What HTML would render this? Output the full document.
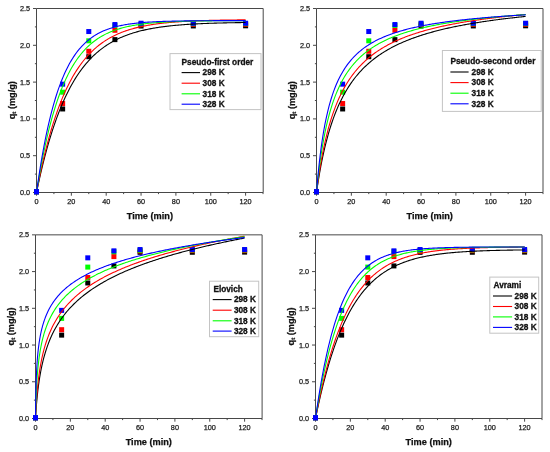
<!DOCTYPE html>
<html><head><meta charset="utf-8"><title>Kinetic models</title>
<style>html,body{margin:0;padding:0;background:#fff}svg{display:block}text{font-family:"Liberation Sans",Arial,Helvetica,sans-serif}</style></head>
<body>
<svg width="550" height="452" viewBox="0 0 550 452">
<rect width="550" height="452" fill="#fff"/>
<g>
<g stroke="#484848" stroke-width="1" fill="none">
<path d="M36.5 8.5H263.2V192.5H36.5Z"/>
<path d="M36.5 192.5v3.2M53.92 192.5v1.6M71.35 192.5v3.2M88.78 192.5v1.6M106.2 192.5v3.2M123.62 192.5v1.6M141.05 192.5v3.2M158.47 192.5v1.6M175.9 192.5v3.2M193.32 192.5v1.6M210.75 192.5v3.2M228.17 192.5v1.6M245.6 192.5v3.2M263.02 192.5v1.6M36.5 192.5h-3.5M36.5 174.1h-1.6M36.5 155.7h-3.5M36.5 137.3h-1.6M36.5 118.9h-3.5M36.5 100.5h-1.6M36.5 82.1h-3.5M36.5 63.7h-1.6M36.5 45.3h-3.5M36.5 26.9h-1.6M36.5 8.5h-3.5"/>
</g>
<g fill="#000000"><rect x="34" y="189.26" width="5" height="5"/><rect x="60.14" y="106.46" width="5" height="5"/><rect x="86.28" y="54.21" width="5" height="5"/><rect x="112.41" y="37.13" width="5" height="5"/><rect x="138.55" y="23.52" width="5" height="5"/><rect x="190.82" y="23.44" width="5" height="5"/><rect x="243.1" y="23.3" width="5" height="5"/></g>
<g fill="#ff0000"><rect x="34" y="189.26" width="5" height="5"/><rect x="60.14" y="101.02" width="5" height="5"/><rect x="86.28" y="48.76" width="5" height="5"/><rect x="112.41" y="27.79" width="5" height="5"/><rect x="138.55" y="22.19" width="5" height="5"/><rect x="190.82" y="21.82" width="5" height="5"/><rect x="243.1" y="21.82" width="5" height="5"/></g>
<g fill="#00ff00"><rect x="34" y="189.26" width="5" height="5"/><rect x="60.14" y="89.68" width="5" height="5"/><rect x="86.28" y="38.31" width="5" height="5"/><rect x="112.41" y="22.93" width="5" height="5"/><rect x="138.55" y="21.46" width="5" height="5"/><rect x="190.82" y="21.09" width="5" height="5"/><rect x="243.1" y="21.09" width="5" height="5"/></g>
<g fill="#0000ff"><rect x="34" y="189.26" width="5" height="5"/><rect x="60.14" y="81.66" width="5" height="5"/><rect x="86.28" y="29.04" width="5" height="5"/><rect x="112.41" y="22.04" width="5" height="5"/><rect x="138.55" y="20.72" width="5" height="5"/><rect x="190.82" y="20.72" width="5" height="5"/><rect x="243.1" y="20.72" width="5" height="5"/></g>
<polyline fill="none" stroke="#000000" stroke-width="1.1" stroke-linejoin="round" points="36.5,192.5 36.65,191.79 36.8,191.07 36.94,190.37 37.09,189.66 37.24,188.96 37.39,188.26 37.53,187.56 37.68,186.87 37.83,186.18 37.98,185.49 38.12,184.81 38.27,184.12 38.42,183.44 38.57,182.77 38.72,182.09 38.86,181.42 39.01,180.76 39.16,180.09 39.31,179.43 39.45,178.77 39.6,178.11 39.75,177.46 39.9,176.81 40.04,176.16 40.19,175.51 40.34,174.87 40.49,174.23 40.63,173.59 40.78,172.96 40.93,172.32 41.08,171.69 41.23,171.07 41.37,170.44 41.52,169.82 41.67,169.2 41.82,168.58 41.96,167.97 42.11,167.36 42.26,166.75 42.41,166.14 42.55,165.54 42.7,164.94 42.85,164.34 43,163.74 43.15,163.15 43.29,162.56 43.44,161.97 43.59,161.38 43.74,160.8 43.88,160.22 44.03,159.64 44.18,159.06 44.33,158.49 44.47,157.92 44.62,157.35 44.77,156.78 44.92,156.22 45.06,155.65 45.21,155.09 46.22,151.34 47.23,147.69 48.23,144.14 49.24,140.7 50.25,137.35 51.25,134.09 52.26,130.93 53.27,127.86 54.28,124.87 55.28,121.97 56.29,119.15 57.3,116.4 58.3,113.74 59.31,111.15 60.32,108.64 61.32,106.19 62.33,103.82 63.34,101.51 64.34,99.27 65.35,97.09 66.36,94.97 67.37,92.91 68.37,90.91 69.38,88.97 70.39,87.08 71.39,85.24 72.4,83.46 73.41,81.73 74.41,80.04 75.42,78.41 76.43,76.82 77.44,75.27 78.44,73.77 79.45,72.31 80.46,70.89 81.46,69.51 82.47,68.17 83.48,66.87 84.48,65.61 85.49,64.38 86.5,63.18 87.51,62.02 88.51,60.89 89.52,59.8 90.53,58.73 91.53,57.7 92.54,56.69 93.55,55.71 94.55,54.76 95.56,53.84 96.57,52.94 97.58,52.07 98.58,51.23 99.59,50.4 100.6,49.6 101.6,48.83 102.61,48.07 103.62,47.34 104.62,46.62 105.63,45.93 106.64,45.26 107.64,44.6 108.65,43.97 109.66,43.35 110.67,42.75 111.67,42.16 112.68,41.6 113.69,41.04 114.69,40.51 115.7,39.99 116.71,39.48 117.71,38.99 118.72,38.51 119.73,38.05 120.74,37.6 121.74,37.16 122.75,36.73 123.76,36.32 124.76,35.92 125.77,35.53 126.78,35.15 127.78,34.78 128.79,34.42 129.8,34.07 130.81,33.73 131.81,33.4 132.82,33.08 133.83,32.77 134.83,32.47 135.84,32.18 136.85,31.89 137.85,31.61 138.86,31.34 139.87,31.08 140.87,30.83 141.88,30.58 142.89,30.34 143.9,30.11 144.9,29.88 145.91,29.66 146.92,29.45 147.92,29.24 148.93,29.03 149.94,28.84 150.94,28.65 151.95,28.46 152.96,28.28 153.97,28.11 154.97,27.94 155.98,27.77 156.99,27.61 157.99,27.45 159,27.3 160.01,27.15 161.01,27.01 162.02,26.87 163.03,26.73 164.04,26.6 165.04,26.48 166.05,26.35 167.06,26.23 168.06,26.11 169.07,26 170.08,25.89 171.08,25.78 172.09,25.68 173.1,25.57 174.1,25.47 175.11,25.38 176.12,25.29 177.13,25.19 178.13,25.11 179.14,25.02 180.15,24.94 181.15,24.86 182.16,24.78 183.17,24.7 184.17,24.63 185.18,24.55 186.19,24.48 187.2,24.42 188.2,24.35 189.21,24.29 190.22,24.22 191.22,24.16 192.23,24.1 193.24,24.05 194.24,23.99 195.25,23.94 196.26,23.88 197.27,23.83 198.27,23.78 199.28,23.73 200.29,23.69 201.29,23.64 202.3,23.6 203.31,23.55 204.31,23.51 205.32,23.47 206.33,23.43 207.34,23.39 208.34,23.36 209.35,23.32 210.36,23.29 211.36,23.25 212.37,23.22 213.38,23.19 214.38,23.15 215.39,23.12 216.4,23.09 217.4,23.06 218.41,23.04 219.42,23.01 220.43,22.98 221.43,22.96 222.44,22.93 223.45,22.91 224.45,22.88 225.46,22.86 226.47,22.84 227.47,22.82 228.48,22.8 229.49,22.78 230.5,22.76 231.5,22.74 232.51,22.72 233.52,22.7 234.52,22.68 235.53,22.66 236.54,22.65 237.54,22.63 238.55,22.62 239.56,22.6 240.57,22.59 241.57,22.57 242.58,22.56 243.59,22.54 244.59,22.53 245.6,22.52"/>
<polyline fill="none" stroke="#ff0000" stroke-width="1.1" stroke-linejoin="round" points="36.5,192.5 36.65,191.72 36.8,190.95 36.94,190.18 37.09,189.41 37.24,188.64 37.39,187.88 37.53,187.13 37.68,186.37 37.83,185.62 37.98,184.88 38.12,184.13 38.27,183.39 38.42,182.65 38.57,181.92 38.72,181.19 38.86,180.46 39.01,179.74 39.16,179.02 39.31,178.3 39.45,177.59 39.6,176.88 39.75,176.17 39.9,175.46 40.04,174.76 40.19,174.06 40.34,173.37 40.49,172.68 40.63,171.99 40.78,171.3 40.93,170.62 41.08,169.94 41.23,169.26 41.37,168.59 41.52,167.92 41.67,167.25 41.82,166.59 41.96,165.93 42.11,165.27 42.26,164.61 42.41,163.96 42.55,163.31 42.7,162.66 42.85,162.02 43,161.38 43.15,160.74 43.29,160.11 43.44,159.47 43.59,158.84 43.74,158.22 43.88,157.59 44.03,156.97 44.18,156.35 44.33,155.74 44.47,155.13 44.62,154.52 44.77,153.91 44.92,153.3 45.06,152.7 45.21,152.1 46.22,148.09 47.23,144.2 48.23,140.42 49.24,136.76 50.25,133.21 51.25,129.77 52.26,126.44 53.27,123.2 54.28,120.06 55.28,117.02 56.29,114.07 57.3,111.2 58.3,108.43 59.31,105.74 60.32,103.13 61.32,100.6 62.33,98.14 63.34,95.76 64.34,93.46 65.35,91.22 66.36,89.05 67.37,86.94 68.37,84.9 69.38,82.92 70.39,81 71.39,79.14 72.4,77.34 73.41,75.59 74.41,73.89 75.42,72.25 76.43,70.65 77.44,69.1 78.44,67.6 79.45,66.15 80.46,64.74 81.46,63.37 82.47,62.04 83.48,60.75 84.48,59.51 85.49,58.3 86.5,57.12 87.51,55.99 88.51,54.88 89.52,53.81 90.53,52.77 91.53,51.77 92.54,50.79 93.55,49.85 94.55,48.93 95.56,48.04 96.57,47.18 97.58,46.34 98.58,45.53 99.59,44.74 100.6,43.98 101.6,43.24 102.61,42.52 103.62,41.83 104.62,41.15 105.63,40.5 106.64,39.86 107.64,39.25 108.65,38.65 109.66,38.07 110.67,37.51 111.67,36.97 112.68,36.44 113.69,35.93 114.69,35.43 115.7,34.95 116.71,34.48 117.71,34.03 118.72,33.59 119.73,33.17 120.74,32.75 121.74,32.35 122.75,31.97 123.76,31.59 124.76,31.23 125.77,30.87 126.78,30.53 127.78,30.2 128.79,29.87 129.8,29.56 130.81,29.26 131.81,28.96 132.82,28.68 133.83,28.4 134.83,28.13 135.84,27.87 136.85,27.62 137.85,27.38 138.86,27.14 139.87,26.91 140.87,26.68 141.88,26.47 142.89,26.26 143.9,26.06 144.9,25.86 145.91,25.67 146.92,25.48 147.92,25.3 148.93,25.13 149.94,24.96 150.94,24.79 151.95,24.63 152.96,24.48 153.97,24.33 154.97,24.19 155.98,24.05 156.99,23.91 157.99,23.78 159,23.65 160.01,23.52 161.01,23.4 162.02,23.29 163.03,23.17 164.04,23.06 165.04,22.96 166.05,22.85 167.06,22.75 168.06,22.66 169.07,22.56 170.08,22.47 171.08,22.38 172.09,22.29 173.1,22.21 174.1,22.13 175.11,22.05 176.12,21.98 177.13,21.9 178.13,21.83 179.14,21.76 180.15,21.69 181.15,21.63 182.16,21.57 183.17,21.5 184.17,21.44 185.18,21.39 186.19,21.33 187.2,21.28 188.2,21.22 189.21,21.17 190.22,21.12 191.22,21.08 192.23,21.03 193.24,20.98 194.24,20.94 195.25,20.9 196.26,20.86 197.27,20.82 198.27,20.78 199.28,20.74 200.29,20.7 201.29,20.67 202.3,20.64 203.31,20.6 204.31,20.57 205.32,20.54 206.33,20.51 207.34,20.48 208.34,20.45 209.35,20.42 210.36,20.4 211.36,20.37 212.37,20.35 213.38,20.32 214.38,20.3 215.39,20.27 216.4,20.25 217.4,20.23 218.41,20.21 219.42,20.19 220.43,20.17 221.43,20.15 222.44,20.13 223.45,20.11 224.45,20.1 225.46,20.08 226.47,20.06 227.47,20.05 228.48,20.03 229.49,20.02 230.5,20 231.5,19.99 232.51,19.98 233.52,19.96 234.52,19.95 235.53,19.94 236.54,19.93 237.54,19.91 238.55,19.9 239.56,19.89 240.57,19.88 241.57,19.87 242.58,19.86 243.59,19.85 244.59,19.84 245.6,19.83"/>
<polyline fill="none" stroke="#00ff00" stroke-width="1.1" stroke-linejoin="round" points="36.5,192.5 36.65,191.57 36.8,190.64 36.94,189.72 37.09,188.81 37.24,187.9 37.39,186.99 37.53,186.09 37.68,185.2 37.83,184.31 37.98,183.42 38.12,182.54 38.27,181.66 38.42,180.79 38.57,179.93 38.72,179.06 38.86,178.21 39.01,177.35 39.16,176.5 39.31,175.66 39.45,174.82 39.6,173.99 39.75,173.16 39.9,172.33 40.04,171.51 40.19,170.69 40.34,169.88 40.49,169.07 40.63,168.27 40.78,167.47 40.93,166.68 41.08,165.89 41.23,165.1 41.37,164.32 41.52,163.54 41.67,162.77 41.82,162 41.96,161.23 42.11,160.47 42.26,159.71 42.41,158.96 42.55,158.21 42.7,157.47 42.85,156.73 43,155.99 43.15,155.26 43.29,154.53 43.44,153.8 43.59,153.08 43.74,152.37 43.88,151.65 44.03,150.94 44.18,150.24 44.33,149.54 44.47,148.84 44.62,148.15 44.77,147.46 44.92,146.77 45.06,146.09 45.21,145.41 46.22,140.87 47.23,136.5 48.23,132.29 49.24,128.24 50.25,124.32 51.25,120.56 52.26,116.92 53.27,113.43 54.28,110.05 55.28,106.8 56.29,103.67 57.3,100.65 58.3,97.74 59.31,94.94 60.32,92.24 61.32,89.64 62.33,87.13 63.34,84.71 64.34,82.38 65.35,80.13 66.36,77.97 67.37,75.89 68.37,73.88 69.38,71.94 70.39,70.07 71.39,68.28 72.4,66.54 73.41,64.87 74.41,63.26 75.42,61.71 76.43,60.22 77.44,58.78 78.44,57.39 79.45,56.05 80.46,54.76 81.46,53.52 82.47,52.32 83.48,51.17 84.48,50.06 85.49,48.99 86.5,47.95 87.51,46.96 88.51,46 89.52,45.08 90.53,44.19 91.53,43.33 92.54,42.5 93.55,41.7 94.55,40.94 95.56,40.2 96.57,39.48 97.58,38.8 98.58,38.13 99.59,37.49 100.6,36.88 101.6,36.29 102.61,35.72 103.62,35.17 104.62,34.63 105.63,34.12 106.64,33.63 107.64,33.16 108.65,32.7 109.66,32.26 110.67,31.83 111.67,31.42 112.68,31.03 113.69,30.65 114.69,30.28 115.7,29.93 116.71,29.59 117.71,29.26 118.72,28.94 119.73,28.64 120.74,28.35 121.74,28.06 122.75,27.79 123.76,27.53 124.76,27.27 125.77,27.03 126.78,26.8 127.78,26.57 128.79,26.35 129.8,26.14 130.81,25.94 131.81,25.74 132.82,25.55 133.83,25.37 134.83,25.2 135.84,25.03 136.85,24.87 137.85,24.71 138.86,24.56 139.87,24.41 140.87,24.27 141.88,24.14 142.89,24.01 143.9,23.88 144.9,23.76 145.91,23.65 146.92,23.53 147.92,23.42 148.93,23.32 149.94,23.22 150.94,23.12 151.95,23.03 152.96,22.94 153.97,22.85 154.97,22.77 155.98,22.69 156.99,22.61 157.99,22.54 159,22.47 160.01,22.4 161.01,22.33 162.02,22.27 163.03,22.2 164.04,22.14 165.04,22.09 166.05,22.03 167.06,21.98 168.06,21.92 169.07,21.88 170.08,21.83 171.08,21.78 172.09,21.74 173.1,21.69 174.1,21.65 175.11,21.61 176.12,21.57 177.13,21.54 178.13,21.5 179.14,21.47 180.15,21.43 181.15,21.4 182.16,21.37 183.17,21.34 184.17,21.31 185.18,21.29 186.19,21.26 187.2,21.23 188.2,21.21 189.21,21.19 190.22,21.16 191.22,21.14 192.23,21.12 193.24,21.1 194.24,21.08 195.25,21.06 196.26,21.04 197.27,21.02 198.27,21.01 199.28,20.99 200.29,20.97 201.29,20.96 202.3,20.94 203.31,20.93 204.31,20.92 205.32,20.9 206.33,20.89 207.34,20.88 208.34,20.87 209.35,20.86 210.36,20.85 211.36,20.83 212.37,20.82 213.38,20.81 214.38,20.81 215.39,20.8 216.4,20.79 217.4,20.78 218.41,20.77 219.42,20.76 220.43,20.76 221.43,20.75 222.44,20.74 223.45,20.73 224.45,20.73 225.46,20.72 226.47,20.72 227.47,20.71 228.48,20.7 229.49,20.7 230.5,20.69 231.5,20.69 232.51,20.68 233.52,20.68 234.52,20.67 235.53,20.67 236.54,20.67 237.54,20.66 238.55,20.66 239.56,20.65 240.57,20.65 241.57,20.65 242.58,20.64 243.59,20.64 244.59,20.64 245.6,20.64"/>
<polyline fill="none" stroke="#0000ff" stroke-width="1.1" stroke-linejoin="round" points="36.5,192.5 36.65,191.44 36.8,190.38 36.94,189.33 37.09,188.29 37.24,187.26 37.39,186.23 37.53,185.2 37.68,184.19 37.83,183.18 37.98,182.17 38.12,181.17 38.27,180.18 38.42,179.2 38.57,178.22 38.72,177.24 38.86,176.28 39.01,175.31 39.16,174.36 39.31,173.41 39.45,172.46 39.6,171.53 39.75,170.59 39.9,169.67 40.04,168.75 40.19,167.83 40.34,166.92 40.49,166.02 40.63,165.12 40.78,164.23 40.93,163.34 41.08,162.46 41.23,161.58 41.37,160.71 41.52,159.85 41.67,158.99 41.82,158.13 41.96,157.28 42.11,156.44 42.26,155.6 42.41,154.76 42.55,153.94 42.7,153.11 42.85,152.29 43,151.48 43.15,150.67 43.29,149.87 43.44,149.07 43.59,148.28 43.74,147.49 43.88,146.7 44.03,145.92 44.18,145.15 44.33,144.38 44.47,143.62 44.62,142.86 44.77,142.1 44.92,141.35 45.06,140.6 45.21,139.86 46.22,134.93 47.23,130.2 48.23,125.66 49.24,121.32 50.25,117.15 51.25,113.15 52.26,109.33 53.27,105.65 54.28,102.13 55.28,98.76 56.29,95.53 57.3,92.43 58.3,89.45 59.31,86.6 60.32,83.87 61.32,81.25 62.33,78.74 63.34,76.34 64.34,74.03 65.35,71.82 66.36,69.7 67.37,67.67 68.37,65.72 69.38,63.85 70.39,62.06 71.39,60.35 72.4,58.7 73.41,57.12 74.41,55.61 75.42,54.16 76.43,52.77 77.44,51.44 78.44,50.16 79.45,48.94 80.46,47.77 81.46,46.64 82.47,45.56 83.48,44.53 84.48,43.54 85.49,42.59 86.5,41.68 87.51,40.8 88.51,39.97 89.52,39.16 90.53,38.4 91.53,37.66 92.54,36.95 93.55,36.27 94.55,35.62 95.56,35 96.57,34.4 97.58,33.83 98.58,33.28 99.59,32.76 100.6,32.25 101.6,31.77 102.61,31.31 103.62,30.86 104.62,30.44 105.63,30.03 106.64,29.64 107.64,29.26 108.65,28.9 109.66,28.56 110.67,28.23 111.67,27.91 112.68,27.61 113.69,27.32 114.69,27.04 115.7,26.77 116.71,26.51 117.71,26.27 118.72,26.03 119.73,25.81 120.74,25.59 121.74,25.38 122.75,25.18 123.76,24.99 124.76,24.81 125.77,24.63 126.78,24.47 127.78,24.3 128.79,24.15 129.8,24 130.81,23.86 131.81,23.72 132.82,23.59 133.83,23.47 134.83,23.35 135.84,23.23 136.85,23.12 137.85,23.02 138.86,22.92 139.87,22.82 140.87,22.73 141.88,22.64 142.89,22.55 143.9,22.47 144.9,22.39 145.91,22.32 146.92,22.24 147.92,22.17 148.93,22.11 149.94,22.04 150.94,21.98 151.95,21.93 152.96,21.87 153.97,21.82 154.97,21.76 155.98,21.71 156.99,21.67 157.99,21.62 159,21.58 160.01,21.54 161.01,21.5 162.02,21.46 163.03,21.42 164.04,21.39 165.04,21.35 166.05,21.32 167.06,21.29 168.06,21.26 169.07,21.23 170.08,21.2 171.08,21.18 172.09,21.15 173.1,21.13 174.1,21.11 175.11,21.08 176.12,21.06 177.13,21.04 178.13,21.02 179.14,21 180.15,20.99 181.15,20.97 182.16,20.95 183.17,20.94 184.17,20.92 185.18,20.91 186.19,20.89 187.2,20.88 188.2,20.87 189.21,20.85 190.22,20.84 191.22,20.83 192.23,20.82 193.24,20.81 194.24,20.8 195.25,20.79 196.26,20.78 197.27,20.77 198.27,20.76 199.28,20.76 200.29,20.75 201.29,20.74 202.3,20.73 203.31,20.73 204.31,20.72 205.32,20.71 206.33,20.71 207.34,20.7 208.34,20.7 209.35,20.69 210.36,20.69 211.36,20.68 212.37,20.68 213.38,20.67 214.38,20.67 215.39,20.67 216.4,20.66 217.4,20.66 218.41,20.65 219.42,20.65 220.43,20.65 221.43,20.64 222.44,20.64 223.45,20.64 224.45,20.64 225.46,20.63 226.47,20.63 227.47,20.63 228.48,20.63 229.49,20.62 230.5,20.62 231.5,20.62 232.51,20.62 233.52,20.61 234.52,20.61 235.53,20.61 236.54,20.61 237.54,20.61 238.55,20.61 239.56,20.6 240.57,20.6 241.57,20.6 242.58,20.6 243.59,20.6 244.59,20.6 245.6,20.6"/>
<rect x="34" y="189.26" width="5" height="5" fill="#0000ff"/>
<g font-size="7.3" fill="#1c1c1c" stroke="#1c1c1c" stroke-width="0.25">
<text x="36.5" y="204" text-anchor="middle">0</text>
<text x="71.35" y="204" text-anchor="middle">20</text>
<text x="106.2" y="204" text-anchor="middle">40</text>
<text x="141.05" y="204" text-anchor="middle">60</text>
<text x="175.9" y="204" text-anchor="middle">80</text>
<text x="210.75" y="204" text-anchor="middle">100</text>
<text x="245.6" y="204" text-anchor="middle">120</text>
<text x="30.2" y="195.05" text-anchor="end">0.0</text>
<text x="30.2" y="158.25" text-anchor="end">0.5</text>
<text x="30.2" y="121.45" text-anchor="end">1.0</text>
<text x="30.2" y="84.65" text-anchor="end">1.5</text>
<text x="30.2" y="47.85" text-anchor="end">2.0</text>
<text x="30.2" y="11.05" text-anchor="end">2.5</text>
</g>
<text x="149.85" y="218.6" text-anchor="middle" font-size="9.2" font-weight="bold" fill="#111" stroke="#111" stroke-width="0.25">Time (min)</text>
<text transform="translate(14.6 100.2) rotate(-90)" text-anchor="middle" font-size="9.15" font-weight="bold" fill="#111" stroke="#111" stroke-width="0.25">q<tspan font-size="6.2" dy="1.4">t</tspan><tspan dy="-1.4"> (mg/g)</tspan></text>
<rect x="170" y="53.6" width="91" height="56" fill="#fff" stroke="#c4c4c4" stroke-width="1"/>
<g font-size="8.27" font-weight="bold" fill="#111" stroke="#111" stroke-width="0.3">
<text x="181.6" y="64.8">Pseudo-first order</text>
<line x1="181.6" x2="200" y1="72.6" y2="72.6" stroke="#000000" stroke-width="1.1"/>
<text x="202.6" y="75.4">298 K</text>
<line x1="181.6" x2="200" y1="83.2" y2="83.2" stroke="#ff0000" stroke-width="1.1"/>
<text x="202.6" y="86">308 K</text>
<line x1="181.6" x2="200" y1="93.8" y2="93.8" stroke="#00ff00" stroke-width="1.1"/>
<text x="202.6" y="96.6">318 K</text>
<line x1="181.6" x2="200" y1="104.2" y2="104.2" stroke="#0000ff" stroke-width="1.1"/>
<text x="202.6" y="107">328 K</text>
</g>
</g>
<g>
<g stroke="#484848" stroke-width="1" fill="none">
<path d="M316.5 8.5H543V192.5H316.5Z"/>
<path d="M316.5 192.5v3.2M333.93 192.5v1.6M351.35 192.5v3.2M368.77 192.5v1.6M386.2 192.5v3.2M403.62 192.5v1.6M421.05 192.5v3.2M438.48 192.5v1.6M455.9 192.5v3.2M473.32 192.5v1.6M490.75 192.5v3.2M508.17 192.5v1.6M525.6 192.5v3.2M543.02 192.5v1.6M316.5 192.5h-3.5M316.5 174.1h-1.6M316.5 155.7h-3.5M316.5 137.3h-1.6M316.5 118.9h-3.5M316.5 100.5h-1.6M316.5 82.1h-3.5M316.5 63.7h-1.6M316.5 45.3h-3.5M316.5 26.9h-1.6M316.5 8.5h-3.5"/>
</g>
<g fill="#000000"><rect x="314" y="189.26" width="5" height="5"/><rect x="340.14" y="106.46" width="5" height="5"/><rect x="366.27" y="54.21" width="5" height="5"/><rect x="392.41" y="37.13" width="5" height="5"/><rect x="418.55" y="23.52" width="5" height="5"/><rect x="470.82" y="23.44" width="5" height="5"/><rect x="523.1" y="23.3" width="5" height="5"/></g>
<g fill="#ff0000"><rect x="314" y="189.26" width="5" height="5"/><rect x="340.14" y="101.02" width="5" height="5"/><rect x="366.27" y="48.76" width="5" height="5"/><rect x="392.41" y="27.79" width="5" height="5"/><rect x="418.55" y="22.19" width="5" height="5"/><rect x="470.82" y="21.82" width="5" height="5"/><rect x="523.1" y="21.82" width="5" height="5"/></g>
<g fill="#00ff00"><rect x="314" y="189.26" width="5" height="5"/><rect x="340.14" y="89.68" width="5" height="5"/><rect x="366.27" y="38.31" width="5" height="5"/><rect x="392.41" y="22.93" width="5" height="5"/><rect x="418.55" y="21.46" width="5" height="5"/><rect x="470.82" y="21.09" width="5" height="5"/><rect x="523.1" y="21.09" width="5" height="5"/></g>
<g fill="#0000ff"><rect x="314" y="189.26" width="5" height="5"/><rect x="340.14" y="81.66" width="5" height="5"/><rect x="366.27" y="29.04" width="5" height="5"/><rect x="392.41" y="22.04" width="5" height="5"/><rect x="418.55" y="20.72" width="5" height="5"/><rect x="470.82" y="20.72" width="5" height="5"/><rect x="523.1" y="20.72" width="5" height="5"/></g>
<polyline fill="none" stroke="#000000" stroke-width="1.1" stroke-linejoin="round" points="316.5,192.5 316.65,191.48 316.8,190.46 316.94,189.46 317.09,188.46 317.24,187.48 317.39,186.5 317.53,185.54 317.68,184.58 317.83,183.64 317.98,182.7 318.12,181.78 318.27,180.86 318.42,179.95 318.57,179.05 318.72,178.15 318.86,177.27 319.01,176.4 319.16,175.53 319.31,174.67 319.45,173.82 319.6,172.98 319.75,172.14 319.9,171.31 320.04,170.49 320.19,169.68 320.34,168.88 320.49,168.08 320.63,167.29 320.78,166.5 320.93,165.73 321.08,164.96 321.23,164.19 321.37,163.44 321.52,162.69 321.67,161.95 321.82,161.21 321.96,160.48 322.11,159.76 322.26,159.04 322.41,158.33 322.55,157.62 322.7,156.92 322.85,156.23 323,155.54 323.15,154.86 323.29,154.18 323.44,153.51 323.59,152.85 323.74,152.19 323.88,151.53 324.03,150.88 324.18,150.24 324.33,149.6 324.47,148.97 324.62,148.34 324.77,147.71 324.92,147.1 325.06,146.48 325.21,145.87 326.22,141.85 327.23,138.03 328.23,134.4 329.24,130.94 330.25,127.65 331.25,124.52 332.26,121.52 333.27,118.66 334.28,115.92 335.28,113.3 336.29,110.79 337.3,108.37 338.3,106.06 339.31,103.84 340.32,101.7 341.32,99.64 342.33,97.65 343.34,95.74 344.34,93.9 345.35,92.12 346.36,90.41 347.37,88.75 348.37,87.14 349.38,85.59 350.39,84.09 351.39,82.64 352.4,81.23 353.41,79.86 354.41,78.54 355.42,77.25 356.43,76.01 357.44,74.8 358.44,73.62 359.45,72.48 360.46,71.36 361.46,70.28 362.47,69.23 363.48,68.21 364.48,67.21 365.49,66.24 366.5,65.29 367.51,64.37 368.51,63.47 369.52,62.59 370.53,61.74 371.53,60.9 372.54,60.09 373.55,59.29 374.55,58.51 375.56,57.75 376.57,57.01 377.58,56.28 378.58,55.57 379.59,54.88 380.6,54.2 381.6,53.53 382.61,52.88 383.62,52.25 384.62,51.62 385.63,51.01 386.64,50.41 387.64,49.83 388.65,49.25 389.66,48.69 390.67,48.14 391.67,47.59 392.68,47.06 393.69,46.54 394.69,46.03 395.7,45.53 396.71,45.04 397.71,44.55 398.72,44.08 399.73,43.61 400.74,43.15 401.74,42.7 402.75,42.26 403.76,41.83 404.76,41.4 405.77,40.98 406.78,40.57 407.78,40.16 408.79,39.77 409.8,39.37 410.81,38.99 411.81,38.61 412.82,38.24 413.83,37.87 414.83,37.51 415.84,37.15 416.85,36.8 417.85,36.46 418.86,36.12 419.87,35.78 420.87,35.45 421.88,35.13 422.89,34.81 423.9,34.49 424.9,34.18 425.91,33.88 426.92,33.58 427.92,33.28 428.93,32.99 429.94,32.7 430.94,32.41 431.95,32.13 432.96,31.86 433.97,31.58 434.97,31.32 435.98,31.05 436.99,30.79 437.99,30.53 439,30.27 440.01,30.02 441.01,29.78 442.02,29.53 443.03,29.29 444.04,29.05 445.04,28.81 446.05,28.58 447.06,28.35 448.06,28.13 449.07,27.9 450.08,27.68 451.08,27.46 452.09,27.25 453.1,27.03 454.1,26.82 455.11,26.61 456.12,26.41 457.13,26.21 458.13,26.01 459.14,25.81 460.15,25.61 461.15,25.42 462.16,25.23 463.17,25.04 464.17,24.85 465.18,24.66 466.19,24.48 467.2,24.3 468.2,24.12 469.21,23.95 470.22,23.77 471.22,23.6 472.23,23.43 473.24,23.26 474.24,23.09 475.25,22.92 476.26,22.76 477.27,22.6 478.27,22.44 479.28,22.28 480.29,22.12 481.29,21.97 482.3,21.81 483.31,21.66 484.31,21.51 485.32,21.36 486.33,21.21 487.34,21.07 488.34,20.92 489.35,20.78 490.36,20.64 491.36,20.5 492.37,20.36 493.38,20.22 494.38,20.08 495.39,19.95 496.4,19.82 497.4,19.68 498.41,19.55 499.42,19.42 500.43,19.29 501.43,19.17 502.44,19.04 503.45,18.92 504.45,18.79 505.46,18.67 506.47,18.55 507.47,18.43 508.48,18.31 509.49,18.19 510.5,18.07 511.5,17.96 512.51,17.84 513.52,17.73 514.52,17.61 515.53,17.5 516.54,17.39 517.54,17.28 518.55,17.17 519.56,17.06 520.57,16.96 521.57,16.85 522.58,16.74 523.59,16.64 524.59,16.54 525.6,16.43"/>
<polyline fill="none" stroke="#ff0000" stroke-width="1.1" stroke-linejoin="round" points="316.5,192.5 316.65,191.33 316.8,190.18 316.94,189.04 317.09,187.91 317.24,186.8 317.39,185.7 317.53,184.61 317.68,183.53 317.83,182.47 317.98,181.42 318.12,180.38 318.27,179.35 318.42,178.33 318.57,177.32 318.72,176.33 318.86,175.34 319.01,174.37 319.16,173.4 319.31,172.45 319.45,171.5 319.6,170.57 319.75,169.64 319.9,168.73 320.04,167.82 320.19,166.93 320.34,166.04 320.49,165.16 320.63,164.29 320.78,163.43 320.93,162.58 321.08,161.74 321.23,160.9 321.37,160.07 321.52,159.26 321.67,158.44 321.82,157.64 321.96,156.85 322.11,156.06 322.26,155.28 322.41,154.51 322.55,153.74 322.7,152.98 322.85,152.23 323,151.49 323.15,150.75 323.29,150.02 323.44,149.3 323.59,148.58 323.74,147.87 323.88,147.17 324.03,146.47 324.18,145.78 324.33,145.09 324.47,144.42 324.62,143.74 324.77,143.08 324.92,142.41 325.06,141.76 325.21,141.11 326.22,136.83 327.23,132.79 328.23,128.97 329.24,125.35 330.25,121.92 331.25,118.67 332.26,115.57 333.27,112.63 334.28,109.82 335.28,107.14 336.29,104.58 337.3,102.14 338.3,99.8 339.31,97.55 340.32,95.4 341.32,93.34 342.33,91.36 343.34,89.45 344.34,87.62 345.35,85.86 346.36,84.16 347.37,82.52 348.37,80.94 349.38,79.41 350.39,77.94 351.39,76.51 352.4,75.14 353.41,73.81 354.41,72.52 355.42,71.27 356.43,70.06 357.44,68.88 358.44,67.74 359.45,66.64 360.46,65.57 361.46,64.53 362.47,63.51 363.48,62.53 364.48,61.57 365.49,60.64 366.5,59.74 367.51,58.86 368.51,58 369.52,57.16 370.53,56.35 371.53,55.55 372.54,54.78 373.55,54.02 374.55,53.28 375.56,52.56 376.57,51.86 377.58,51.17 378.58,50.5 379.59,49.85 380.6,49.21 381.6,48.58 382.61,47.97 383.62,47.37 384.62,46.78 385.63,46.21 386.64,45.65 387.64,45.1 388.65,44.56 389.66,44.03 390.67,43.51 391.67,43.01 392.68,42.51 393.69,42.03 394.69,41.55 395.7,41.08 396.71,40.62 397.71,40.17 398.72,39.73 399.73,39.3 400.74,38.87 401.74,38.45 402.75,38.04 403.76,37.64 404.76,37.25 405.77,36.86 406.78,36.48 407.78,36.1 408.79,35.73 409.8,35.37 410.81,35.01 411.81,34.66 412.82,34.32 413.83,33.98 414.83,33.65 415.84,33.32 416.85,32.99 417.85,32.68 418.86,32.36 419.87,32.06 420.87,31.75 421.88,31.46 422.89,31.16 423.9,30.87 424.9,30.59 425.91,30.31 426.92,30.03 427.92,29.76 428.93,29.49 429.94,29.23 430.94,28.96 431.95,28.71 432.96,28.45 433.97,28.21 434.97,27.96 435.98,27.72 436.99,27.48 437.99,27.24 439,27.01 440.01,26.78 441.01,26.55 442.02,26.33 443.03,26.11 444.04,25.89 445.04,25.67 446.05,25.46 447.06,25.25 448.06,25.05 449.07,24.84 450.08,24.64 451.08,24.44 452.09,24.25 453.1,24.05 454.1,23.86 455.11,23.67 456.12,23.48 457.13,23.3 458.13,23.12 459.14,22.94 460.15,22.76 461.15,22.58 462.16,22.41 463.17,22.24 464.17,22.07 465.18,21.9 466.19,21.73 467.2,21.57 468.2,21.41 469.21,21.25 470.22,21.09 471.22,20.93 472.23,20.78 473.24,20.63 474.24,20.47 475.25,20.32 476.26,20.18 477.27,20.03 478.27,19.88 479.28,19.74 480.29,19.6 481.29,19.46 482.3,19.32 483.31,19.18 484.31,19.05 485.32,18.91 486.33,18.78 487.34,18.65 488.34,18.51 489.35,18.39 490.36,18.26 491.36,18.13 492.37,18.01 493.38,17.88 494.38,17.76 495.39,17.64 496.4,17.52 497.4,17.4 498.41,17.28 499.42,17.16 500.43,17.05 501.43,16.93 502.44,16.82 503.45,16.71 504.45,16.59 505.46,16.48 506.47,16.37 507.47,16.27 508.48,16.16 509.49,16.05 510.5,15.95 511.5,15.84 512.51,15.74 513.52,15.64 514.52,15.53 515.53,15.43 516.54,15.33 517.54,15.23 518.55,15.14 519.56,15.04 520.57,14.94 521.57,14.85 522.58,14.75 523.59,14.66 524.59,14.57 525.6,14.47"/>
<polyline fill="none" stroke="#00ff00" stroke-width="1.1" stroke-linejoin="round" points="316.5,192.5 316.65,191 316.8,189.52 316.94,188.07 317.09,186.64 317.24,185.23 317.39,183.84 317.53,182.47 317.68,181.12 317.83,179.79 317.98,178.48 318.12,177.19 318.27,175.92 318.42,174.66 318.57,173.42 318.72,172.2 318.86,171 319.01,169.81 319.16,168.64 319.31,167.49 319.45,166.35 319.6,165.23 319.75,164.12 319.9,163.02 320.04,161.94 320.19,160.88 320.34,159.83 320.49,158.79 320.63,157.76 320.78,156.75 320.93,155.75 321.08,154.76 321.23,153.79 321.37,152.83 321.52,151.88 321.67,150.94 321.82,150.01 321.96,149.09 322.11,148.19 322.26,147.29 322.41,146.41 322.55,145.54 322.7,144.67 322.85,143.82 323,142.98 323.15,142.14 323.29,141.32 323.44,140.5 323.59,139.7 323.74,138.9 323.88,138.12 324.03,137.34 324.18,136.57 324.33,135.81 324.47,135.05 324.62,134.31 324.77,133.57 324.92,132.84 325.06,132.12 325.21,131.41 326.22,126.74 327.23,122.39 328.23,118.32 329.24,114.51 330.25,110.94 331.25,107.58 332.26,104.41 333.27,101.43 334.28,98.6 335.28,95.93 336.29,93.4 337.3,90.99 338.3,88.71 339.31,86.53 340.32,84.46 341.32,82.48 342.33,80.59 343.34,78.78 344.34,77.05 345.35,75.4 346.36,73.81 347.37,72.29 348.37,70.82 349.38,69.42 350.39,68.06 351.39,66.76 352.4,65.51 353.41,64.3 354.41,63.13 355.42,62.01 356.43,60.92 357.44,59.87 358.44,58.85 359.45,57.87 360.46,56.92 361.46,56 362.47,55.1 363.48,54.24 364.48,53.4 365.49,52.58 366.5,51.79 367.51,51.02 368.51,50.28 369.52,49.55 370.53,48.85 371.53,48.16 372.54,47.49 373.55,46.84 374.55,46.21 375.56,45.59 376.57,44.99 377.58,44.41 378.58,43.83 379.59,43.28 380.6,42.73 381.6,42.2 382.61,41.68 383.62,41.18 384.62,40.68 385.63,40.2 386.64,39.73 387.64,39.27 388.65,38.82 389.66,38.37 390.67,37.94 391.67,37.52 392.68,37.11 393.69,36.7 394.69,36.3 395.7,35.91 396.71,35.53 397.71,35.16 398.72,34.8 399.73,34.44 400.74,34.09 401.74,33.74 402.75,33.4 403.76,33.07 404.76,32.75 405.77,32.43 406.78,32.11 407.78,31.8 408.79,31.5 409.8,31.21 410.81,30.91 411.81,30.63 412.82,30.35 413.83,30.07 414.83,29.8 415.84,29.53 416.85,29.27 417.85,29.01 418.86,28.76 419.87,28.51 420.87,28.26 421.88,28.02 422.89,27.78 423.9,27.55 424.9,27.32 425.91,27.09 426.92,26.87 427.92,26.65 428.93,26.43 429.94,26.22 430.94,26.01 431.95,25.8 432.96,25.6 433.97,25.4 434.97,25.2 435.98,25.01 436.99,24.81 437.99,24.62 439,24.44 440.01,24.25 441.01,24.07 442.02,23.89 443.03,23.72 444.04,23.54 445.04,23.37 446.05,23.2 447.06,23.04 448.06,22.87 449.07,22.71 450.08,22.55 451.08,22.39 452.09,22.23 453.1,22.08 454.1,21.93 455.11,21.78 456.12,21.63 457.13,21.48 458.13,21.34 459.14,21.19 460.15,21.05 461.15,20.91 462.16,20.78 463.17,20.64 464.17,20.51 465.18,20.37 466.19,20.24 467.2,20.11 468.2,19.99 469.21,19.86 470.22,19.73 471.22,19.61 472.23,19.49 473.24,19.37 474.24,19.25 475.25,19.13 476.26,19.01 477.27,18.9 478.27,18.78 479.28,18.67 480.29,18.56 481.29,18.45 482.3,18.34 483.31,18.23 484.31,18.12 485.32,18.02 486.33,17.91 487.34,17.81 488.34,17.71 489.35,17.61 490.36,17.51 491.36,17.41 492.37,17.31 493.38,17.21 494.38,17.12 495.39,17.02 496.4,16.93 497.4,16.83 498.41,16.74 499.42,16.65 500.43,16.56 501.43,16.47 502.44,16.38 503.45,16.29 504.45,16.21 505.46,16.12 506.47,16.04 507.47,15.95 508.48,15.87 509.49,15.78 510.5,15.7 511.5,15.62 512.51,15.54 513.52,15.46 514.52,15.38 515.53,15.3 516.54,15.22 517.54,15.15 518.55,15.07 519.56,15 520.57,14.92 521.57,14.85 522.58,14.77 523.59,14.7 524.59,14.63 525.6,14.56"/>
<polyline fill="none" stroke="#0000ff" stroke-width="1.1" stroke-linejoin="round" points="316.5,192.5 316.65,190.66 316.8,188.86 316.94,187.09 317.09,185.35 317.24,183.64 317.39,181.97 317.53,180.33 317.68,178.72 317.83,177.13 317.98,175.58 318.12,174.05 318.27,172.54 318.42,171.07 318.57,169.62 318.72,168.19 318.86,166.79 319.01,165.41 319.16,164.06 319.31,162.72 319.45,161.41 319.6,160.12 319.75,158.85 319.9,157.6 320.04,156.37 320.19,155.16 320.34,153.97 320.49,152.8 320.63,151.64 320.78,150.51 320.93,149.39 321.08,148.28 321.23,147.19 321.37,146.12 321.52,145.07 321.67,144.03 321.82,143 321.96,141.99 322.11,141 322.26,140.01 322.41,139.05 322.55,138.09 322.7,137.15 322.85,136.22 323,135.31 323.15,134.4 323.29,133.51 323.44,132.63 323.59,131.76 323.74,130.91 323.88,130.06 324.03,129.23 324.18,128.4 324.33,127.59 324.47,126.79 324.62,126 324.77,125.21 324.92,124.44 325.06,123.68 325.21,122.93 326.22,118.03 327.23,113.51 328.23,109.33 329.24,105.46 330.25,101.85 331.25,98.49 332.26,95.34 333.27,92.4 334.28,89.63 335.28,87.03 336.29,84.58 337.3,82.26 338.3,80.07 339.31,78 340.32,76.04 341.32,74.17 342.33,72.4 343.34,70.71 344.34,69.1 345.35,67.56 346.36,66.09 347.37,64.69 348.37,63.35 349.38,62.06 350.39,60.82 351.39,59.64 352.4,58.5 353.41,57.41 354.41,56.36 355.42,55.34 356.43,54.37 357.44,53.43 358.44,52.52 359.45,51.64 360.46,50.8 361.46,49.98 362.47,49.19 363.48,48.42 364.48,47.68 365.49,46.96 366.5,46.27 367.51,45.59 368.51,44.94 369.52,44.3 370.53,43.69 371.53,43.09 372.54,42.51 373.55,41.94 374.55,41.39 375.56,40.86 376.57,40.34 377.58,39.83 378.58,39.34 379.59,38.85 380.6,38.39 381.6,37.93 382.61,37.48 383.62,37.05 384.62,36.62 385.63,36.21 386.64,35.81 387.64,35.41 388.65,35.03 389.66,34.65 390.67,34.28 391.67,33.92 392.68,33.57 393.69,33.22 394.69,32.89 395.7,32.56 396.71,32.23 397.71,31.92 398.72,31.61 399.73,31.3 400.74,31.01 401.74,30.71 402.75,30.43 403.76,30.15 404.76,29.87 405.77,29.61 406.78,29.34 407.78,29.08 408.79,28.83 409.8,28.58 410.81,28.33 411.81,28.09 412.82,27.86 413.83,27.63 414.83,27.4 415.84,27.17 416.85,26.95 417.85,26.74 418.86,26.53 419.87,26.32 420.87,26.11 421.88,25.91 422.89,25.71 423.9,25.52 424.9,25.32 425.91,25.14 426.92,24.95 427.92,24.77 428.93,24.59 429.94,24.41 430.94,24.24 431.95,24.06 432.96,23.89 433.97,23.73 434.97,23.56 435.98,23.4 436.99,23.24 437.99,23.09 439,22.93 440.01,22.78 441.01,22.63 442.02,22.48 443.03,22.34 444.04,22.19 445.04,22.05 446.05,21.91 447.06,21.77 448.06,21.64 449.07,21.5 450.08,21.37 451.08,21.24 452.09,21.11 453.1,20.98 454.1,20.86 455.11,20.74 456.12,20.61 457.13,20.49 458.13,20.37 459.14,20.26 460.15,20.14 461.15,20.03 462.16,19.91 463.17,19.8 464.17,19.69 465.18,19.58 466.19,19.47 467.2,19.37 468.2,19.26 469.21,19.16 470.22,19.06 471.22,18.95 472.23,18.85 473.24,18.76 474.24,18.66 475.25,18.56 476.26,18.47 477.27,18.37 478.27,18.28 479.28,18.19 480.29,18.09 481.29,18 482.3,17.91 483.31,17.83 484.31,17.74 485.32,17.65 486.33,17.57 487.34,17.48 488.34,17.4 489.35,17.32 490.36,17.23 491.36,17.15 492.37,17.07 493.38,16.99 494.38,16.92 495.39,16.84 496.4,16.76 497.4,16.69 498.41,16.61 499.42,16.54 500.43,16.46 501.43,16.39 502.44,16.32 503.45,16.25 504.45,16.17 505.46,16.1 506.47,16.04 507.47,15.97 508.48,15.9 509.49,15.83 510.5,15.76 511.5,15.7 512.51,15.63 513.52,15.57 514.52,15.5 515.53,15.44 516.54,15.38 517.54,15.31 518.55,15.25 519.56,15.19 520.57,15.13 521.57,15.07 522.58,15.01 523.59,14.95 524.59,14.89 525.6,14.83"/>
<rect x="314" y="189.26" width="5" height="5" fill="#0000ff"/>
<g font-size="7.3" fill="#1c1c1c" stroke="#1c1c1c" stroke-width="0.25">
<text x="316.5" y="204" text-anchor="middle">0</text>
<text x="351.35" y="204" text-anchor="middle">20</text>
<text x="386.2" y="204" text-anchor="middle">40</text>
<text x="421.05" y="204" text-anchor="middle">60</text>
<text x="455.9" y="204" text-anchor="middle">80</text>
<text x="490.75" y="204" text-anchor="middle">100</text>
<text x="525.6" y="204" text-anchor="middle">120</text>
<text x="310.2" y="195.05" text-anchor="end">0.0</text>
<text x="310.2" y="158.25" text-anchor="end">0.5</text>
<text x="310.2" y="121.45" text-anchor="end">1.0</text>
<text x="310.2" y="84.65" text-anchor="end">1.5</text>
<text x="310.2" y="47.85" text-anchor="end">2.0</text>
<text x="310.2" y="11.05" text-anchor="end">2.5</text>
</g>
<text x="429.75" y="218.6" text-anchor="middle" font-size="9.2" font-weight="bold" fill="#111" stroke="#111" stroke-width="0.25">Time (min)</text>
<text transform="translate(294.6 100.2) rotate(-90)" text-anchor="middle" font-size="9.15" font-weight="bold" fill="#111" stroke="#111" stroke-width="0.25">q<tspan font-size="6.2" dy="1.4">t</tspan><tspan dy="-1.4"> (mg/g)</tspan></text>
<rect x="442.4" y="50.5" width="98.8" height="60.9" fill="#fff" stroke="#c4c4c4" stroke-width="1"/>
<g font-size="8.27" font-weight="bold" fill="#111" stroke="#111" stroke-width="0.3">
<text x="450.4" y="64">Pseudo-second order</text>
<line x1="450.4" x2="468.6" y1="72" y2="72" stroke="#000000" stroke-width="1.1"/>
<text x="471.6" y="74.8">298 K</text>
<line x1="450.4" x2="468.6" y1="82.6" y2="82.6" stroke="#ff0000" stroke-width="1.1"/>
<text x="471.6" y="85.4">308 K</text>
<line x1="450.4" x2="468.6" y1="93.2" y2="93.2" stroke="#00ff00" stroke-width="1.1"/>
<text x="471.6" y="96">318 K</text>
<line x1="450.4" x2="468.6" y1="103.8" y2="103.8" stroke="#0000ff" stroke-width="1.1"/>
<text x="471.6" y="106.6">328 K</text>
</g>
</g>
<g>
<g stroke="#484848" stroke-width="1" fill="none">
<path d="M35.5 234.85H262.1V418.5H35.5Z"/>
<path d="M35.5 418.5v3.2M52.92 418.5v1.6M70.35 418.5v3.2M87.78 418.5v1.6M105.2 418.5v3.2M122.62 418.5v1.6M140.05 418.5v3.2M157.47 418.5v1.6M174.9 418.5v3.2M192.32 418.5v1.6M209.75 418.5v3.2M227.17 418.5v1.6M244.6 418.5v3.2M262.02 418.5v1.6M35.5 418.5h-3.5M35.5 400.13h-1.6M35.5 381.77h-3.5M35.5 363.4h-1.6M35.5 345.04h-3.5M35.5 326.67h-1.6M35.5 308.31h-3.5M35.5 289.94h-1.6M35.5 271.58h-3.5M35.5 253.21h-1.6M35.5 234.85h-3.5"/>
</g>
<g fill="#000000"><rect x="33" y="415.27" width="5" height="5"/><rect x="59.14" y="332.62" width="5" height="5"/><rect x="85.28" y="280.47" width="5" height="5"/><rect x="111.41" y="263.42" width="5" height="5"/><rect x="137.55" y="249.83" width="5" height="5"/><rect x="189.82" y="249.76" width="5" height="5"/><rect x="242.1" y="249.61" width="5" height="5"/></g>
<g fill="#ff0000"><rect x="33" y="415.27" width="5" height="5"/><rect x="59.14" y="327.19" width="5" height="5"/><rect x="85.28" y="275.03" width="5" height="5"/><rect x="111.41" y="254.09" width="5" height="5"/><rect x="137.55" y="248.51" width="5" height="5"/><rect x="189.82" y="248.14" width="5" height="5"/><rect x="242.1" y="248.14" width="5" height="5"/></g>
<g fill="#00ff00"><rect x="33" y="415.27" width="5" height="5"/><rect x="59.14" y="315.87" width="5" height="5"/><rect x="85.28" y="264.6" width="5" height="5"/><rect x="111.41" y="249.25" width="5" height="5"/><rect x="137.55" y="247.78" width="5" height="5"/><rect x="189.82" y="247.41" width="5" height="5"/><rect x="242.1" y="247.41" width="5" height="5"/></g>
<g fill="#0000ff"><rect x="33" y="415.27" width="5" height="5"/><rect x="59.14" y="307.87" width="5" height="5"/><rect x="85.28" y="255.34" width="5" height="5"/><rect x="111.41" y="248.36" width="5" height="5"/><rect x="137.55" y="247.04" width="5" height="5"/><rect x="189.82" y="247.04" width="5" height="5"/><rect x="242.1" y="247.04" width="5" height="5"/></g>
<polyline fill="none" stroke="#000000" stroke-width="1.1" stroke-linejoin="round" points="35.5,418.5 35.65,416.05 35.8,413.73 35.94,411.55 36.09,409.47 36.24,407.5 36.39,405.62 36.53,403.83 36.68,402.11 36.83,400.46 36.98,398.88 37.12,397.36 37.27,395.89 37.42,394.48 37.57,393.11 37.72,391.79 37.86,390.51 38.01,389.28 38.16,388.07 38.31,386.91 38.45,385.77 38.6,384.67 38.75,383.6 38.9,382.55 39.04,381.53 39.19,380.54 39.34,379.57 39.49,378.62 39.63,377.7 39.78,376.8 39.93,375.91 40.08,375.05 40.23,374.2 40.37,373.37 40.52,372.56 40.67,371.76 40.82,370.98 40.96,370.22 41.11,369.47 41.26,368.73 41.41,368.01 41.55,367.3 41.7,366.6 41.85,365.91 42,365.23 42.15,364.57 42.29,363.92 42.44,363.28 42.59,362.64 42.74,362.02 42.88,361.41 43.03,360.8 43.18,360.21 43.33,359.62 43.47,359.04 43.62,358.47 43.77,357.91 43.92,357.36 44.06,356.81 44.21,356.27 45.22,352.78 46.23,349.57 47.23,346.59 48.24,343.83 49.25,341.24 50.25,338.8 51.26,336.51 52.27,334.34 53.28,332.29 54.28,330.33 55.29,328.46 56.3,326.68 57.3,324.97 58.31,323.34 59.32,321.76 60.32,320.25 61.33,318.79 62.34,317.39 63.34,316.03 64.35,314.71 65.36,313.44 66.37,312.21 67.37,311.01 68.38,309.85 69.39,308.72 70.39,307.62 71.4,306.55 72.41,305.51 73.41,304.5 74.42,303.51 75.43,302.54 76.44,301.6 77.44,300.68 78.45,299.78 79.46,298.9 80.46,298.03 81.47,297.19 82.48,296.36 83.48,295.55 84.49,294.76 85.5,293.98 86.51,293.22 87.51,292.47 88.52,291.74 89.53,291.01 90.53,290.3 91.54,289.61 92.55,288.92 93.55,288.25 94.56,287.59 95.57,286.94 96.58,286.29 97.58,285.66 98.59,285.04 99.6,284.43 100.6,283.83 101.61,283.23 102.62,282.65 103.62,282.07 104.63,281.5 105.64,280.94 106.64,280.39 107.65,279.85 108.66,279.31 109.67,278.78 110.67,278.25 111.68,277.74 112.69,277.23 113.69,276.72 114.7,276.23 115.71,275.73 116.71,275.25 117.72,274.77 118.73,274.29 119.74,273.83 120.74,273.36 121.75,272.9 122.76,272.45 123.76,272 124.77,271.56 125.78,271.12 126.78,270.69 127.79,270.26 128.8,269.84 129.81,269.42 130.81,269 131.82,268.59 132.83,268.19 133.83,267.78 134.84,267.38 135.85,266.99 136.85,266.6 137.86,266.21 138.87,265.83 139.87,265.45 140.88,265.07 141.89,264.7 142.9,264.33 143.9,263.96 144.91,263.6 145.92,263.24 146.92,262.89 147.93,262.53 148.94,262.18 149.94,261.84 150.95,261.49 151.96,261.15 152.97,260.81 153.97,260.48 154.98,260.15 155.99,259.82 156.99,259.49 158,259.17 159.01,258.84 160.01,258.52 161.02,258.21 162.03,257.89 163.04,257.58 164.04,257.27 165.05,256.97 166.06,256.66 167.06,256.36 168.07,256.06 169.08,255.76 170.08,255.47 171.09,255.17 172.1,254.88 173.1,254.59 174.11,254.3 175.12,254.02 176.13,253.74 177.13,253.45 178.14,253.18 179.15,252.9 180.15,252.62 181.16,252.35 182.17,252.08 183.17,251.81 184.18,251.54 185.19,251.27 186.2,251.01 187.2,250.75 188.21,250.49 189.22,250.23 190.22,249.97 191.23,249.71 192.24,249.46 193.24,249.21 194.25,248.96 195.26,248.71 196.27,248.46 197.27,248.21 198.28,247.97 199.29,247.72 200.29,247.48 201.3,247.24 202.31,247 203.31,246.76 204.32,246.53 205.33,246.29 206.34,246.06 207.34,245.83 208.35,245.6 209.36,245.37 210.36,245.14 211.37,244.91 212.38,244.68 213.38,244.46 214.39,244.24 215.4,244.02 216.4,243.79 217.41,243.58 218.42,243.36 219.43,243.14 220.43,242.92 221.44,242.71 222.45,242.5 223.45,242.28 224.46,242.07 225.47,241.86 226.47,241.65 227.48,241.44 228.49,241.24 229.5,241.03 230.5,240.83 231.51,240.62 232.52,240.42 233.52,240.22 234.53,240.02 235.54,239.82 236.54,239.62 237.55,239.42 238.56,239.22 239.57,239.03 240.57,238.83 241.58,238.64 242.59,238.45 243.59,238.25 244.6,238.06"/>
<polyline fill="none" stroke="#ff0000" stroke-width="1.1" stroke-linejoin="round" points="35.5,418.5 35.65,415.17 35.8,412.11 35.94,409.29 36.09,406.66 36.24,404.21 36.39,401.9 36.53,399.74 36.68,397.69 36.83,395.75 36.98,393.9 37.12,392.14 37.27,390.46 37.42,388.86 37.57,387.32 37.72,385.84 37.86,384.41 38.01,383.04 38.16,381.72 38.31,380.44 38.45,379.21 38.6,378.02 38.75,376.86 38.9,375.74 39.04,374.65 39.19,373.59 39.34,372.56 39.49,371.56 39.63,370.58 39.78,369.63 39.93,368.7 40.08,367.8 40.23,366.92 40.37,366.05 40.52,365.21 40.67,364.38 40.82,363.58 40.96,362.79 41.11,362.02 41.26,361.26 41.41,360.52 41.55,359.79 41.7,359.07 41.85,358.37 42,357.69 42.15,357.01 42.29,356.35 42.44,355.7 42.59,355.06 42.74,354.43 42.88,353.81 43.03,353.2 43.18,352.6 43.33,352.01 43.47,351.43 43.62,350.86 43.77,350.3 43.92,349.74 44.06,349.19 44.21,348.66 45.22,345.18 46.23,342 47.23,339.07 48.24,336.35 49.25,333.82 50.25,331.45 51.26,329.22 52.27,327.11 53.28,325.12 54.28,323.23 55.29,321.44 56.3,319.72 57.3,318.08 58.31,316.51 59.32,315 60.32,313.55 61.33,312.16 62.34,310.81 63.34,309.52 64.35,308.26 65.36,307.05 66.37,305.88 67.37,304.74 68.38,303.63 69.39,302.56 70.39,301.52 71.4,300.5 72.41,299.51 73.41,298.55 74.42,297.61 75.43,296.7 76.44,295.8 77.44,294.93 78.45,294.08 79.46,293.25 80.46,292.43 81.47,291.63 82.48,290.85 83.48,290.09 84.49,289.34 85.5,288.6 86.51,287.88 87.51,287.18 88.52,286.48 89.53,285.8 90.53,285.13 91.54,284.48 92.55,283.83 93.55,283.2 94.56,282.57 95.57,281.96 96.58,281.36 97.58,280.76 98.59,280.18 99.6,279.6 100.6,279.04 101.61,278.48 102.62,277.93 103.62,277.38 104.63,276.85 105.64,276.32 106.64,275.8 107.65,275.29 108.66,274.79 109.67,274.29 110.67,273.8 111.68,273.31 112.69,272.83 113.69,272.36 114.7,271.89 115.71,271.43 116.71,270.97 117.72,270.52 118.73,270.08 119.74,269.64 120.74,269.2 121.75,268.77 122.76,268.35 123.76,267.93 124.77,267.51 125.78,267.1 126.78,266.7 127.79,266.29 128.8,265.9 129.81,265.5 130.81,265.11 131.82,264.73 132.83,264.35 133.83,263.97 134.84,263.6 135.85,263.23 136.85,262.86 137.86,262.5 138.87,262.14 139.87,261.78 140.88,261.43 141.89,261.08 142.9,260.73 143.9,260.39 144.91,260.05 145.92,259.72 146.92,259.38 147.93,259.05 148.94,258.72 149.94,258.4 150.95,258.08 151.96,257.76 152.97,257.44 153.97,257.13 154.98,256.82 155.99,256.51 156.99,256.2 158,255.9 159.01,255.6 160.01,255.3 161.02,255 162.03,254.71 163.04,254.42 164.04,254.13 165.05,253.84 166.06,253.55 167.06,253.27 168.07,252.99 169.08,252.71 170.08,252.44 171.09,252.16 172.1,251.89 173.1,251.62 174.11,251.35 175.12,251.08 176.13,250.82 177.13,250.56 178.14,250.29 179.15,250.04 180.15,249.78 181.16,249.52 182.17,249.27 183.17,249.02 184.18,248.77 185.19,248.52 186.2,248.27 187.2,248.02 188.21,247.78 189.22,247.54 190.22,247.3 191.23,247.06 192.24,246.82 193.24,246.58 194.25,246.35 195.26,246.12 196.27,245.88 197.27,245.65 198.28,245.42 199.29,245.2 200.29,244.97 201.3,244.75 202.31,244.52 203.31,244.3 204.32,244.08 205.33,243.86 206.34,243.64 207.34,243.42 208.35,243.21 209.36,242.99 210.36,242.78 211.37,242.57 212.38,242.36 213.38,242.15 214.39,241.94 215.4,241.73 216.4,241.53 217.41,241.32 218.42,241.12 219.43,240.91 220.43,240.71 221.44,240.51 222.45,240.31 223.45,240.11 224.46,239.92 225.47,239.72 226.47,239.53 227.48,239.33 228.49,239.14 229.5,238.95 230.5,238.75 231.51,238.56 232.52,238.37 233.52,238.19 234.53,238 235.54,237.81 236.54,237.63 237.55,237.44 238.56,237.26 239.57,237.07 240.57,236.89 241.58,236.71 242.59,236.53 243.59,236.35 244.6,236.17"/>
<polyline fill="none" stroke="#00ff00" stroke-width="1.1" stroke-linejoin="round" points="35.5,418.5 35.65,411.61 35.8,405.98 35.94,401.22 36.09,397.09 36.24,393.45 36.39,390.19 36.53,387.24 36.68,384.55 36.83,382.08 36.98,379.78 37.12,377.65 37.27,375.65 37.42,373.77 37.57,372 37.72,370.33 37.86,368.74 38.01,367.23 38.16,365.79 38.31,364.41 38.45,363.1 38.6,361.83 38.75,360.62 38.9,359.45 39.04,358.32 39.19,357.24 39.34,356.19 39.49,355.17 39.63,354.19 39.78,353.24 39.93,352.31 40.08,351.41 40.23,350.54 40.37,349.69 40.52,348.87 40.67,348.06 40.82,347.28 40.96,346.51 41.11,345.77 41.26,345.04 41.41,344.33 41.55,343.63 41.7,342.95 41.85,342.28 42,341.63 42.15,340.99 42.29,340.37 42.44,339.75 42.59,339.15 42.74,338.56 42.88,337.98 43.03,337.41 43.18,336.86 43.33,336.31 43.47,335.77 43.62,335.24 43.77,334.72 43.92,334.21 44.06,333.7 44.21,333.21 45.22,330.02 46.23,327.14 47.23,324.5 48.24,322.06 49.25,319.81 50.25,317.7 51.26,315.74 52.27,313.88 53.28,312.14 54.28,310.48 55.29,308.91 56.3,307.42 57.3,305.99 58.31,304.63 59.32,303.33 60.32,302.07 61.33,300.87 62.34,299.71 63.34,298.59 64.35,297.52 65.36,296.47 66.37,295.47 67.37,294.49 68.38,293.54 69.39,292.62 70.39,291.73 71.4,290.87 72.41,290.02 73.41,289.2 74.42,288.4 75.43,287.62 76.44,286.86 77.44,286.12 78.45,285.39 79.46,284.68 80.46,283.99 81.47,283.31 82.48,282.65 83.48,282 84.49,281.37 85.5,280.74 86.51,280.13 87.51,279.53 88.52,278.95 89.53,278.37 90.53,277.8 91.54,277.25 92.55,276.7 93.55,276.17 94.56,275.64 95.57,275.12 96.58,274.61 97.58,274.11 98.59,273.61 99.6,273.13 100.6,272.65 101.61,272.18 102.62,271.71 103.62,271.26 104.63,270.8 105.64,270.36 106.64,269.92 107.65,269.49 108.66,269.06 109.67,268.64 110.67,268.23 111.68,267.82 112.69,267.42 113.69,267.02 114.7,266.62 115.71,266.24 116.71,265.85 117.72,265.47 118.73,265.1 119.74,264.73 120.74,264.36 121.75,264 122.76,263.64 123.76,263.29 124.77,262.94 125.78,262.6 126.78,262.26 127.79,261.92 128.8,261.58 129.81,261.25 130.81,260.93 131.82,260.6 132.83,260.28 133.83,259.97 134.84,259.65 135.85,259.34 136.85,259.03 137.86,258.73 138.87,258.43 139.87,258.13 140.88,257.83 141.89,257.54 142.9,257.25 143.9,256.96 144.91,256.68 145.92,256.39 146.92,256.11 147.93,255.84 148.94,255.56 149.94,255.29 150.95,255.02 151.96,254.75 152.97,254.49 153.97,254.22 154.98,253.96 155.99,253.7 156.99,253.45 158,253.19 159.01,252.94 160.01,252.69 161.02,252.44 162.03,252.19 163.04,251.95 164.04,251.71 165.05,251.47 166.06,251.23 167.06,250.99 168.07,250.76 169.08,250.52 170.08,250.29 171.09,250.06 172.1,249.83 173.1,249.61 174.11,249.38 175.12,249.16 176.13,248.94 177.13,248.72 178.14,248.5 179.15,248.28 180.15,248.06 181.16,247.85 182.17,247.64 183.17,247.43 184.18,247.22 185.19,247.01 186.2,246.8 187.2,246.6 188.21,246.39 189.22,246.19 190.22,245.99 191.23,245.79 192.24,245.59 193.24,245.39 194.25,245.19 195.26,245 196.27,244.81 197.27,244.61 198.28,244.42 199.29,244.23 200.29,244.04 201.3,243.85 202.31,243.67 203.31,243.48 204.32,243.3 205.33,243.11 206.34,242.93 207.34,242.75 208.35,242.57 209.36,242.39 210.36,242.21 211.37,242.03 212.38,241.86 213.38,241.68 214.39,241.51 215.4,241.33 216.4,241.16 217.41,240.99 218.42,240.82 219.43,240.65 220.43,240.48 221.44,240.31 222.45,240.15 223.45,239.98 224.46,239.82 225.47,239.65 226.47,239.49 227.48,239.33 228.49,239.16 229.5,239 230.5,238.84 231.51,238.68 232.52,238.53 233.52,238.37 234.53,238.21 235.54,238.06 236.54,237.9 237.55,237.75 238.56,237.59 239.57,237.44 240.57,237.29 241.58,237.14 242.59,236.99 243.59,236.84 244.6,236.69"/>
<polyline fill="none" stroke="#0000ff" stroke-width="1.1" stroke-linejoin="round" points="35.5,418.5 35.65,404.87 35.8,395.92 35.94,389.26 36.09,383.95 36.24,379.52 36.39,375.74 36.53,372.43 36.68,369.49 36.83,366.85 36.98,364.44 37.12,362.24 37.27,360.21 37.42,358.32 37.57,356.56 37.72,354.91 37.86,353.36 38.01,351.89 38.16,350.5 38.31,349.18 38.45,347.93 38.6,346.73 38.75,345.58 38.9,344.48 39.04,343.42 39.19,342.41 39.34,341.43 39.49,340.49 39.63,339.58 39.78,338.7 39.93,337.85 40.08,337.02 40.23,336.22 40.37,335.45 40.52,334.7 40.67,333.96 40.82,333.25 40.96,332.56 41.11,331.88 41.26,331.22 41.41,330.58 41.55,329.95 41.7,329.34 41.85,328.74 42,328.15 42.15,327.58 42.29,327.02 42.44,326.47 42.59,325.93 42.74,325.4 42.88,324.88 43.03,324.38 43.18,323.88 43.33,323.39 43.47,322.91 43.62,322.44 43.77,321.98 43.92,321.52 44.06,321.08 44.21,320.64 45.22,317.82 46.23,315.28 47.23,312.96 48.24,310.82 49.25,308.85 50.25,307.02 51.26,305.3 52.27,303.69 53.28,302.17 54.28,300.74 55.29,299.37 56.3,298.08 57.3,296.85 58.31,295.67 59.32,294.54 60.32,293.46 61.33,292.42 62.34,291.42 63.34,290.46 64.35,289.53 65.36,288.63 66.37,287.76 67.37,286.92 68.38,286.11 69.39,285.32 70.39,284.55 71.4,283.8 72.41,283.08 73.41,282.37 74.42,281.69 75.43,281.02 76.44,280.36 77.44,279.73 78.45,279.1 79.46,278.5 80.46,277.9 81.47,277.32 82.48,276.75 83.48,276.2 84.49,275.65 85.5,275.12 86.51,274.59 87.51,274.08 88.52,273.58 89.53,273.08 90.53,272.6 91.54,272.12 92.55,271.66 93.55,271.2 94.56,270.74 95.57,270.3 96.58,269.86 97.58,269.43 98.59,269.01 99.6,268.6 100.6,268.19 101.61,267.78 102.62,267.39 103.62,266.99 104.63,266.61 105.64,266.23 106.64,265.85 107.65,265.48 108.66,265.12 109.67,264.76 110.67,264.41 111.68,264.06 112.69,263.71 113.69,263.37 114.7,263.04 115.71,262.7 116.71,262.37 117.72,262.05 118.73,261.73 119.74,261.41 120.74,261.1 121.75,260.79 122.76,260.49 123.76,260.19 124.77,259.89 125.78,259.59 126.78,259.3 127.79,259.01 128.8,258.73 129.81,258.45 130.81,258.17 131.82,257.89 132.83,257.62 133.83,257.35 134.84,257.08 135.85,256.81 136.85,256.55 137.86,256.29 138.87,256.03 139.87,255.78 140.88,255.52 141.89,255.27 142.9,255.03 143.9,254.78 144.91,254.54 145.92,254.3 146.92,254.06 147.93,253.82 148.94,253.59 149.94,253.35 150.95,253.12 151.96,252.9 152.97,252.67 153.97,252.44 154.98,252.22 155.99,252 156.99,251.78 158,251.56 159.01,251.35 160.01,251.14 161.02,250.92 162.03,250.71 163.04,250.5 164.04,250.3 165.05,250.09 166.06,249.89 167.06,249.69 168.07,249.49 169.08,249.29 170.08,249.09 171.09,248.89 172.1,248.7 173.1,248.51 174.11,248.31 175.12,248.12 176.13,247.93 177.13,247.75 178.14,247.56 179.15,247.37 180.15,247.19 181.16,247.01 182.17,246.83 183.17,246.65 184.18,246.47 185.19,246.29 186.2,246.11 187.2,245.94 188.21,245.76 189.22,245.59 190.22,245.42 191.23,245.25 192.24,245.08 193.24,244.91 194.25,244.74 195.26,244.58 196.27,244.41 197.27,244.25 198.28,244.08 199.29,243.92 200.29,243.76 201.3,243.6 202.31,243.44 203.31,243.28 204.32,243.12 205.33,242.97 206.34,242.81 207.34,242.66 208.35,242.5 209.36,242.35 210.36,242.2 211.37,242.05 212.38,241.9 213.38,241.75 214.39,241.6 215.4,241.45 216.4,241.3 217.41,241.16 218.42,241.01 219.43,240.87 220.43,240.72 221.44,240.58 222.45,240.44 223.45,240.3 224.46,240.16 225.47,240.02 226.47,239.88 227.48,239.74 228.49,239.6 229.5,239.46 230.5,239.33 231.51,239.19 232.52,239.06 233.52,238.92 234.53,238.79 235.54,238.66 236.54,238.52 237.55,238.39 238.56,238.26 239.57,238.13 240.57,238 241.58,237.87 242.59,237.74 243.59,237.62 244.6,237.49"/>
<rect x="33" y="415.27" width="5" height="5" fill="#0000ff"/>
<g font-size="7.3" fill="#1c1c1c" stroke="#1c1c1c" stroke-width="0.25">
<text x="35.5" y="430" text-anchor="middle">0</text>
<text x="70.35" y="430" text-anchor="middle">20</text>
<text x="105.2" y="430" text-anchor="middle">40</text>
<text x="140.05" y="430" text-anchor="middle">60</text>
<text x="174.9" y="430" text-anchor="middle">80</text>
<text x="209.75" y="430" text-anchor="middle">100</text>
<text x="244.6" y="430" text-anchor="middle">120</text>
<text x="29.2" y="421.05" text-anchor="end">0.0</text>
<text x="29.2" y="384.32" text-anchor="end">0.5</text>
<text x="29.2" y="347.59" text-anchor="end">1.0</text>
<text x="29.2" y="310.86" text-anchor="end">1.5</text>
<text x="29.2" y="274.13" text-anchor="end">2.0</text>
<text x="29.2" y="237.4" text-anchor="end">2.5</text>
</g>
<text x="148.8" y="444.6" text-anchor="middle" font-size="9.2" font-weight="bold" fill="#111" stroke="#111" stroke-width="0.25">Time (min)</text>
<text transform="translate(13.6 326.38) rotate(-90)" text-anchor="middle" font-size="9.15" font-weight="bold" fill="#111" stroke="#111" stroke-width="0.25">q<tspan font-size="6.2" dy="1.4">t</tspan><tspan dy="-1.4"> (mg/g)</tspan></text>
<rect x="209.5" y="281.2" width="49.2" height="55.5" fill="#fff" stroke="#c4c4c4" stroke-width="1"/>
<g font-size="8.27" font-weight="bold" fill="#111" stroke="#111" stroke-width="0.3">
<text x="213.4" y="291.6">Elovich</text>
<line x1="212.7" x2="231.6" y1="299.6" y2="299.6" stroke="#000000" stroke-width="1.1"/>
<text x="233.9" y="302.4">298 K</text>
<line x1="212.7" x2="231.6" y1="310.2" y2="310.2" stroke="#ff0000" stroke-width="1.1"/>
<text x="233.9" y="313">308 K</text>
<line x1="212.7" x2="231.6" y1="320.8" y2="320.8" stroke="#00ff00" stroke-width="1.1"/>
<text x="233.9" y="323.6">318 K</text>
<line x1="212.7" x2="231.6" y1="331.1" y2="331.1" stroke="#0000ff" stroke-width="1.1"/>
<text x="233.9" y="333.9">328 K</text>
</g>
</g>
<g>
<g stroke="#484848" stroke-width="1" fill="none">
<path d="M315.5 234.85H542V418.5H315.5Z"/>
<path d="M315.5 418.5v3.2M332.93 418.5v1.6M350.35 418.5v3.2M367.77 418.5v1.6M385.2 418.5v3.2M402.62 418.5v1.6M420.05 418.5v3.2M437.48 418.5v1.6M454.9 418.5v3.2M472.32 418.5v1.6M489.75 418.5v3.2M507.17 418.5v1.6M524.6 418.5v3.2M542.02 418.5v1.6M315.5 418.5h-3.5M315.5 400.13h-1.6M315.5 381.77h-3.5M315.5 363.4h-1.6M315.5 345.04h-3.5M315.5 326.67h-1.6M315.5 308.31h-3.5M315.5 289.94h-1.6M315.5 271.58h-3.5M315.5 253.21h-1.6M315.5 234.85h-3.5"/>
</g>
<g fill="#000000"><rect x="313" y="415.27" width="5" height="5"/><rect x="339.14" y="332.62" width="5" height="5"/><rect x="365.27" y="280.47" width="5" height="5"/><rect x="391.41" y="263.42" width="5" height="5"/><rect x="417.55" y="249.83" width="5" height="5"/><rect x="469.82" y="249.76" width="5" height="5"/><rect x="522.1" y="249.61" width="5" height="5"/></g>
<g fill="#ff0000"><rect x="313" y="415.27" width="5" height="5"/><rect x="339.14" y="327.19" width="5" height="5"/><rect x="365.27" y="275.03" width="5" height="5"/><rect x="391.41" y="254.09" width="5" height="5"/><rect x="417.55" y="248.51" width="5" height="5"/><rect x="469.82" y="248.14" width="5" height="5"/><rect x="522.1" y="248.14" width="5" height="5"/></g>
<g fill="#00ff00"><rect x="313" y="415.27" width="5" height="5"/><rect x="339.14" y="315.87" width="5" height="5"/><rect x="365.27" y="264.6" width="5" height="5"/><rect x="391.41" y="249.25" width="5" height="5"/><rect x="417.55" y="247.78" width="5" height="5"/><rect x="469.82" y="247.41" width="5" height="5"/><rect x="522.1" y="247.41" width="5" height="5"/></g>
<g fill="#0000ff"><rect x="313" y="415.27" width="5" height="5"/><rect x="339.14" y="307.87" width="5" height="5"/><rect x="365.27" y="255.34" width="5" height="5"/><rect x="391.41" y="248.36" width="5" height="5"/><rect x="417.55" y="247.04" width="5" height="5"/><rect x="469.82" y="247.04" width="5" height="5"/><rect x="522.1" y="247.04" width="5" height="5"/></g>
<polyline fill="none" stroke="#000000" stroke-width="1.1" stroke-linejoin="round" points="315.5,418.5 315.65,417.77 315.8,417.05 315.94,416.33 316.09,415.61 316.24,414.9 316.39,414.18 316.53,413.48 316.68,412.77 316.83,412.07 316.98,411.37 317.12,410.67 317.27,409.98 317.42,409.29 317.57,408.6 317.72,407.92 317.86,407.24 318.01,406.56 318.16,405.88 318.31,405.21 318.45,404.54 318.6,403.87 318.75,403.21 318.9,402.55 319.04,401.89 319.19,401.23 319.34,400.58 319.49,399.93 319.63,399.28 319.78,398.64 319.93,398 320.08,397.36 320.23,396.72 320.37,396.09 320.52,395.46 320.67,394.83 320.82,394.21 320.96,393.58 321.11,392.97 321.26,392.35 321.41,391.73 321.55,391.12 321.7,390.51 321.85,389.91 322,389.3 322.15,388.7 322.29,388.1 322.44,387.51 322.59,386.91 322.74,386.32 322.88,385.73 323.03,385.15 323.18,384.56 323.33,383.98 323.47,383.4 323.62,382.83 323.77,382.25 323.92,381.68 324.06,381.12 324.21,380.55 325.22,376.75 326.23,373.07 327.23,369.49 328.24,366.01 329.25,362.64 330.25,359.36 331.26,356.18 332.27,353.09 333.28,350.09 334.28,347.18 335.29,344.35 336.3,341.6 337.3,338.93 338.31,336.34 339.32,333.83 340.32,331.38 341.33,329.01 342.34,326.71 343.34,324.47 344.35,322.3 345.36,320.2 346.37,318.15 347.37,316.16 348.38,314.23 349.39,312.36 350.39,310.54 351.4,308.77 352.41,307.05 353.41,305.39 354.42,303.77 355.43,302.2 356.44,300.67 357.44,299.19 358.45,297.75 359.46,296.35 360.46,295 361.47,293.68 362.48,292.4 363.48,291.16 364.49,289.95 365.5,288.78 366.51,287.65 367.51,286.54 368.52,285.47 369.53,284.43 370.53,283.42 371.54,282.44 372.55,281.48 373.55,280.56 374.56,279.66 375.57,278.79 376.58,277.94 377.58,277.12 378.59,276.32 379.6,275.54 380.6,274.79 381.61,274.06 382.62,273.35 383.62,272.66 384.63,271.99 385.64,271.34 386.64,270.71 387.65,270.09 388.66,269.5 389.67,268.92 390.67,268.36 391.68,267.81 392.69,267.28 393.69,266.77 394.7,266.27 395.71,265.78 396.71,265.31 397.72,264.86 398.73,264.41 399.74,263.98 400.74,263.56 401.75,263.16 402.76,262.76 403.76,262.38 404.77,262.01 405.78,261.65 406.78,261.3 407.79,260.96 408.8,260.62 409.81,260.3 410.81,259.99 411.82,259.69 412.83,259.4 413.83,259.11 414.84,258.83 415.85,258.56 416.85,258.3 417.86,258.05 418.87,257.8 419.87,257.56 420.88,257.33 421.89,257.1 422.9,256.89 423.9,256.67 424.91,256.47 425.92,256.27 426.92,256.07 427.93,255.88 428.94,255.7 429.94,255.52 430.95,255.35 431.96,255.18 432.97,255.01 433.97,254.86 434.98,254.7 435.99,254.55 436.99,254.41 438,254.27 439.01,254.13 440.01,254 441.02,253.87 442.03,253.74 443.04,253.62 444.04,253.5 445.05,253.39 446.06,253.28 447.06,253.17 448.07,253.06 449.08,252.96 450.08,252.86 451.09,252.77 452.1,252.67 453.1,252.58 454.11,252.49 455.12,252.41 456.13,252.32 457.13,252.24 458.14,252.17 459.15,252.09 460.15,252.02 461.16,251.94 462.17,251.87 463.17,251.81 464.18,251.74 465.19,251.68 466.2,251.62 467.2,251.56 468.21,251.5 469.22,251.44 470.22,251.39 471.23,251.33 472.24,251.28 473.24,251.23 474.25,251.18 475.26,251.13 476.27,251.09 477.27,251.04 478.28,251 479.29,250.96 480.29,250.92 481.3,250.88 482.31,250.84 483.31,250.8 484.32,250.76 485.33,250.73 486.34,250.69 487.34,250.66 488.35,250.63 489.36,250.6 490.36,250.57 491.37,250.54 492.38,250.51 493.38,250.48 494.39,250.45 495.4,250.43 496.4,250.4 497.41,250.38 498.42,250.35 499.43,250.33 500.43,250.31 501.44,250.28 502.45,250.26 503.45,250.24 504.46,250.22 505.47,250.2 506.47,250.18 507.48,250.16 508.49,250.15 509.5,250.13 510.5,250.11 511.51,250.09 512.52,250.08 513.52,250.06 514.53,250.05 515.54,250.03 516.54,250.02 517.55,250 518.56,249.99 519.57,249.98 520.57,249.97 521.58,249.95 522.59,249.94 523.59,249.93 524.6,249.92"/>
<polyline fill="none" stroke="#ff0000" stroke-width="1.1" stroke-linejoin="round" points="315.5,418.5 315.65,417.72 315.8,416.94 315.94,416.16 316.09,415.39 316.24,414.62 316.39,413.85 316.53,413.09 316.68,412.33 316.83,411.57 316.98,410.82 317.12,410.07 317.27,409.33 317.42,408.58 317.57,407.85 317.72,407.11 317.86,406.38 318.01,405.65 318.16,404.92 318.31,404.2 318.45,403.48 318.6,402.77 318.75,402.06 318.9,401.35 319.04,400.64 319.19,399.94 319.34,399.24 319.49,398.54 319.63,397.85 319.78,397.16 319.93,396.48 320.08,395.79 320.23,395.11 320.37,394.43 320.52,393.76 320.67,393.09 320.82,392.42 320.96,391.76 321.11,391.1 321.26,390.44 321.41,389.78 321.55,389.13 321.7,388.48 321.85,387.83 322,387.19 322.15,386.55 322.29,385.91 322.44,385.27 322.59,384.64 322.74,384.01 322.88,383.38 323.03,382.76 323.18,382.14 323.33,381.52 323.47,380.91 323.62,380.3 323.77,379.69 323.92,379.08 324.06,378.47 324.21,377.87 325.22,373.85 326.23,369.94 327.23,366.16 328.24,362.49 329.25,358.94 330.25,355.49 331.26,352.15 332.27,348.91 333.28,345.78 334.28,342.74 335.29,339.79 336.3,336.93 337.3,334.16 338.31,331.48 339.32,328.87 340.32,326.35 341.33,323.91 342.34,321.54 343.34,319.24 344.35,317.01 345.36,314.86 346.37,312.76 347.37,310.74 348.38,308.77 349.39,306.87 350.39,305.02 351.4,303.23 352.41,301.5 353.41,299.81 354.42,298.18 355.43,296.6 356.44,295.07 357.44,293.59 358.45,292.15 359.46,290.76 360.46,289.41 361.47,288.1 362.48,286.83 363.48,285.59 364.49,284.4 365.5,283.25 366.51,282.12 367.51,281.04 368.52,279.98 369.53,278.96 370.53,277.97 371.54,277.02 372.55,276.09 373.55,275.19 374.56,274.31 375.57,273.47 376.58,272.64 377.58,271.85 378.59,271.08 379.6,270.33 380.6,269.61 381.61,268.91 382.62,268.22 383.62,267.57 384.63,266.93 385.64,266.31 386.64,265.71 387.65,265.12 388.66,264.56 389.67,264.01 390.67,263.48 391.68,262.97 392.69,262.47 393.69,261.99 394.7,261.52 395.71,261.07 396.71,260.63 397.72,260.2 398.73,259.79 399.74,259.39 400.74,259 401.75,258.62 402.76,258.26 403.76,257.9 404.77,257.56 405.78,257.23 406.78,256.91 407.79,256.6 408.8,256.29 409.81,256 410.81,255.72 411.82,255.44 412.83,255.17 413.83,254.92 414.84,254.66 415.85,254.42 416.85,254.19 417.86,253.96 418.87,253.74 419.87,253.52 420.88,253.31 421.89,253.11 422.9,252.92 423.9,252.73 424.91,252.54 425.92,252.37 426.92,252.19 427.93,252.03 428.94,251.86 429.94,251.71 430.95,251.55 431.96,251.41 432.97,251.26 433.97,251.13 434.98,250.99 435.99,250.86 436.99,250.73 438,250.61 439.01,250.49 440.01,250.38 441.02,250.27 442.03,250.16 443.04,250.05 444.04,249.95 445.05,249.85 446.06,249.76 447.06,249.67 448.07,249.58 449.08,249.49 450.08,249.41 451.09,249.32 452.1,249.25 453.1,249.17 454.11,249.09 455.12,249.02 456.13,248.95 457.13,248.89 458.14,248.82 459.15,248.76 460.15,248.69 461.16,248.64 462.17,248.58 463.17,248.52 464.18,248.47 465.19,248.41 466.2,248.36 467.2,248.31 468.21,248.27 469.22,248.22 470.22,248.17 471.23,248.13 472.24,248.09 473.24,248.05 474.25,248.01 475.26,247.97 476.27,247.93 477.27,247.89 478.28,247.86 479.29,247.83 480.29,247.79 481.3,247.76 482.31,247.73 483.31,247.7 484.32,247.67 485.33,247.64 486.34,247.61 487.34,247.59 488.35,247.56 489.36,247.54 490.36,247.51 491.37,247.49 492.38,247.47 493.38,247.45 494.39,247.42 495.4,247.4 496.4,247.38 497.41,247.36 498.42,247.34 499.43,247.33 500.43,247.31 501.44,247.29 502.45,247.28 503.45,247.26 504.46,247.24 505.47,247.23 506.47,247.21 507.48,247.2 508.49,247.19 509.5,247.17 510.5,247.16 511.51,247.15 512.52,247.13 513.52,247.12 514.53,247.11 515.54,247.1 516.54,247.09 517.55,247.08 518.56,247.07 519.57,247.06 520.57,247.05 521.58,247.04 522.59,247.03 523.59,247.02 524.6,247.01"/>
<polyline fill="none" stroke="#00ff00" stroke-width="1.1" stroke-linejoin="round" points="315.5,418.5 315.65,417.57 315.8,416.65 315.94,415.73 316.09,414.82 316.24,413.91 316.39,413 316.53,412.11 316.68,411.21 316.83,410.32 316.98,409.44 317.12,408.56 317.27,407.68 317.42,406.81 317.57,405.95 317.72,405.09 317.86,404.23 318.01,403.38 318.16,402.53 318.31,401.69 318.45,400.86 318.6,400.02 318.75,399.19 318.9,398.37 319.04,397.55 319.19,396.74 319.34,395.92 319.49,395.12 319.63,394.32 319.78,393.52 319.93,392.73 320.08,391.94 320.23,391.15 320.37,390.37 320.52,389.6 320.67,388.82 320.82,388.06 320.96,387.29 321.11,386.53 321.26,385.78 321.41,385.02 321.55,384.28 321.7,383.53 321.85,382.8 322,382.06 322.15,381.33 322.29,380.6 322.44,379.88 322.59,379.16 322.74,378.44 322.88,377.73 323.03,377.02 323.18,376.32 323.33,375.62 323.47,374.92 323.62,374.23 323.77,373.54 323.92,372.86 324.06,372.17 324.21,371.5 325.22,366.97 326.23,362.61 327.23,358.41 328.24,354.36 329.25,350.45 330.25,346.69 331.26,343.07 332.27,339.58 333.28,336.21 334.28,332.97 335.29,329.84 336.3,326.83 337.3,323.92 338.31,321.13 339.32,318.43 340.32,315.83 341.33,313.33 342.34,310.91 343.34,308.59 344.35,306.35 345.36,304.19 346.37,302.11 347.37,300.1 348.38,298.17 349.39,296.31 350.39,294.51 351.4,292.78 352.41,291.12 353.41,289.51 354.42,287.96 355.43,286.47 356.44,285.03 357.44,283.65 358.45,282.31 359.46,281.03 360.46,279.79 361.47,278.59 362.48,277.44 363.48,276.33 364.49,275.26 365.5,274.23 366.51,273.24 367.51,272.28 368.52,271.36 369.53,270.47 370.53,269.61 371.54,268.79 372.55,267.99 373.55,267.22 374.56,266.49 375.57,265.77 376.58,265.09 377.58,264.43 378.59,263.79 379.6,263.18 380.6,262.58 381.61,262.01 382.62,261.46 383.62,260.93 384.63,260.42 385.64,259.93 386.64,259.46 387.65,259 388.66,258.56 389.67,258.14 390.67,257.73 391.68,257.34 392.69,256.96 393.69,256.59 394.7,256.24 395.71,255.9 396.71,255.57 397.72,255.25 398.73,254.95 399.74,254.66 400.74,254.38 401.75,254.1 402.76,253.84 403.76,253.59 404.77,253.34 405.78,253.11 406.78,252.88 407.79,252.67 408.8,252.46 409.81,252.25 410.81,252.06 411.82,251.87 412.83,251.69 413.83,251.52 414.84,251.35 415.85,251.18 416.85,251.03 417.86,250.88 418.87,250.73 419.87,250.59 420.88,250.46 421.89,250.33 422.9,250.2 423.9,250.08 424.91,249.97 425.92,249.85 426.92,249.75 427.93,249.64 428.94,249.54 429.94,249.45 430.95,249.35 431.96,249.26 432.97,249.18 433.97,249.09 434.98,249.01 435.99,248.94 436.99,248.86 438,248.79 439.01,248.72 440.01,248.65 441.02,248.59 442.03,248.53 443.04,248.47 444.04,248.41 445.05,248.35 446.06,248.3 447.06,248.25 448.07,248.2 449.08,248.15 450.08,248.11 451.09,248.06 452.1,248.02 453.1,247.98 454.11,247.94 455.12,247.9 456.13,247.86 457.13,247.83 458.14,247.79 459.15,247.76 460.15,247.73 461.16,247.7 462.17,247.67 463.17,247.64 464.18,247.61 465.19,247.58 466.2,247.56 467.2,247.53 468.21,247.51 469.22,247.49 470.22,247.47 471.23,247.45 472.24,247.42 473.24,247.41 474.25,247.39 475.26,247.37 476.27,247.35 477.27,247.33 478.28,247.32 479.29,247.3 480.29,247.29 481.3,247.27 482.31,247.26 483.31,247.24 484.32,247.23 485.33,247.22 486.34,247.21 487.34,247.19 488.35,247.18 489.36,247.17 490.36,247.16 491.37,247.15 492.38,247.14 493.38,247.13 494.39,247.12 495.4,247.11 496.4,247.11 497.41,247.1 498.42,247.09 499.43,247.08 500.43,247.08 501.44,247.07 502.45,247.06 503.45,247.05 504.46,247.05 505.47,247.04 506.47,247.04 507.48,247.03 508.49,247.03 509.5,247.02 510.5,247.02 511.51,247.01 512.52,247.01 513.52,247 514.53,247 515.54,246.99 516.54,246.99 517.55,246.99 518.56,246.98 519.57,246.98 520.57,246.97 521.58,246.97 522.59,246.97 523.59,246.96 524.6,246.96"/>
<polyline fill="none" stroke="#0000ff" stroke-width="1.1" stroke-linejoin="round" points="315.5,418.5 315.65,417.44 315.8,416.39 315.94,415.34 316.09,414.3 316.24,413.27 316.39,412.24 316.53,411.22 316.68,410.2 316.83,409.19 316.98,408.19 317.12,407.2 317.27,406.21 317.42,405.22 317.57,404.24 317.72,403.27 317.86,402.31 318.01,401.35 318.16,400.39 318.31,399.45 318.45,398.5 318.6,397.57 318.75,396.64 318.9,395.71 319.04,394.79 319.19,393.88 319.34,392.97 319.49,392.07 319.63,391.17 319.78,390.28 319.93,389.4 320.08,388.52 320.23,387.64 320.37,386.77 320.52,385.91 320.67,385.05 320.82,384.2 320.96,383.35 321.11,382.51 321.26,381.67 321.41,380.84 321.55,380.01 321.7,379.19 321.85,378.37 322,377.56 322.15,376.75 322.29,375.95 322.44,375.15 322.59,374.36 322.74,373.57 322.88,372.79 323.03,372.01 323.18,371.24 323.33,370.47 323.47,369.71 323.62,368.95 323.77,368.2 323.92,367.45 324.06,366.7 324.21,365.96 325.22,361.04 326.23,356.32 327.23,351.79 328.24,347.45 329.25,343.29 330.25,339.31 331.26,335.48 332.27,331.82 333.28,328.31 334.28,324.94 335.29,321.71 336.3,318.62 337.3,315.65 338.31,312.81 339.32,310.08 340.32,307.47 341.33,304.96 342.34,302.56 343.34,300.26 344.35,298.05 345.36,295.93 346.37,293.91 347.37,291.96 348.38,290.1 349.39,288.31 350.39,286.6 351.4,284.96 352.41,283.38 353.41,281.87 354.42,280.43 355.43,279.04 356.44,277.71 357.44,276.43 358.45,275.21 359.46,274.04 360.46,272.92 361.47,271.84 362.48,270.81 363.48,269.82 364.49,268.87 365.5,267.96 366.51,267.09 367.51,266.26 368.52,265.46 369.53,264.69 370.53,263.95 371.54,263.25 372.55,262.57 373.55,261.92 374.56,261.3 375.57,260.71 376.58,260.13 377.58,259.59 378.59,259.06 379.6,258.56 380.6,258.08 381.61,257.61 382.62,257.17 383.62,256.75 384.63,256.34 385.64,255.95 386.64,255.57 387.65,255.21 388.66,254.87 389.67,254.54 390.67,254.22 391.68,253.92 392.69,253.63 393.69,253.35 394.7,253.09 395.71,252.83 396.71,252.58 397.72,252.35 398.73,252.12 399.74,251.91 400.74,251.7 401.75,251.5 402.76,251.31 403.76,251.13 404.77,250.95 405.78,250.79 406.78,250.62 407.79,250.47 408.8,250.32 409.81,250.18 410.81,250.05 411.82,249.92 412.83,249.79 413.83,249.67 414.84,249.56 415.85,249.45 416.85,249.34 417.86,249.24 418.87,249.14 419.87,249.05 420.88,248.96 421.89,248.88 422.9,248.79 423.9,248.72 424.91,248.64 425.92,248.57 426.92,248.5 427.93,248.43 428.94,248.37 429.94,248.31 430.95,248.25 431.96,248.19 432.97,248.14 433.97,248.09 434.98,248.04 435.99,247.99 436.99,247.95 438,247.9 439.01,247.86 440.01,247.82 441.02,247.78 442.03,247.75 443.04,247.71 444.04,247.68 445.05,247.65 446.06,247.62 447.06,247.59 448.07,247.56 449.08,247.53 450.08,247.5 451.09,247.48 452.1,247.45 453.1,247.43 454.11,247.41 455.12,247.39 456.13,247.37 457.13,247.35 458.14,247.33 459.15,247.31 460.15,247.29 461.16,247.28 462.17,247.26 463.17,247.25 464.18,247.23 465.19,247.22 466.2,247.21 467.2,247.19 468.21,247.18 469.22,247.17 470.22,247.16 471.23,247.15 472.24,247.14 473.24,247.13 474.25,247.12 475.26,247.11 476.27,247.1 477.27,247.09 478.28,247.08 479.29,247.08 480.29,247.07 481.3,247.06 482.31,247.05 483.31,247.05 484.32,247.04 485.33,247.04 486.34,247.03 487.34,247.02 488.35,247.02 489.36,247.01 490.36,247.01 491.37,247 492.38,247 493.38,247 494.39,246.99 495.4,246.99 496.4,246.98 497.41,246.98 498.42,246.98 499.43,246.97 500.43,246.97 501.44,246.97 502.45,246.96 503.45,246.96 504.46,246.96 505.47,246.96 506.47,246.95 507.48,246.95 508.49,246.95 509.5,246.95 510.5,246.95 511.51,246.94 512.52,246.94 513.52,246.94 514.53,246.94 515.54,246.94 516.54,246.93 517.55,246.93 518.56,246.93 519.57,246.93 520.57,246.93 521.58,246.93 522.59,246.93 523.59,246.93 524.6,246.92"/>
<rect x="313" y="415.27" width="5" height="5" fill="#0000ff"/>
<g font-size="7.3" fill="#1c1c1c" stroke="#1c1c1c" stroke-width="0.25">
<text x="315.5" y="430" text-anchor="middle">0</text>
<text x="350.35" y="430" text-anchor="middle">20</text>
<text x="385.2" y="430" text-anchor="middle">40</text>
<text x="420.05" y="430" text-anchor="middle">60</text>
<text x="454.9" y="430" text-anchor="middle">80</text>
<text x="489.75" y="430" text-anchor="middle">100</text>
<text x="524.6" y="430" text-anchor="middle">120</text>
<text x="309.2" y="421.05" text-anchor="end">0.0</text>
<text x="309.2" y="384.32" text-anchor="end">0.5</text>
<text x="309.2" y="347.59" text-anchor="end">1.0</text>
<text x="309.2" y="310.86" text-anchor="end">1.5</text>
<text x="309.2" y="274.13" text-anchor="end">2.0</text>
<text x="309.2" y="237.4" text-anchor="end">2.5</text>
</g>
<text x="428.75" y="444.6" text-anchor="middle" font-size="9.2" font-weight="bold" fill="#111" stroke="#111" stroke-width="0.25">Time (min)</text>
<text transform="translate(293.6 326.38) rotate(-90)" text-anchor="middle" font-size="9.15" font-weight="bold" fill="#111" stroke="#111" stroke-width="0.25">q<tspan font-size="6.2" dy="1.4">t</tspan><tspan dy="-1.4"> (mg/g)</tspan></text>
<rect x="489.8" y="277.1" width="48.9" height="56.1" fill="#fff" stroke="#c4c4c4" stroke-width="1"/>
<g font-size="8.27" font-weight="bold" fill="#111" stroke="#111" stroke-width="0.3">
<text x="493.5" y="288.2">Avrami</text>
<line x1="493" x2="512.1" y1="296" y2="296" stroke="#000000" stroke-width="1.1"/>
<text x="514.6" y="298.8">298 K</text>
<line x1="493" x2="512.1" y1="306.5" y2="306.5" stroke="#ff0000" stroke-width="1.1"/>
<text x="514.6" y="309.3">308 K</text>
<line x1="493" x2="512.1" y1="316.9" y2="316.9" stroke="#00ff00" stroke-width="1.1"/>
<text x="514.6" y="319.7">318 K</text>
<line x1="493" x2="512.1" y1="327.4" y2="327.4" stroke="#0000ff" stroke-width="1.1"/>
<text x="514.6" y="330.2">328 K</text>
</g>
</g>
</svg>
</body></html>
